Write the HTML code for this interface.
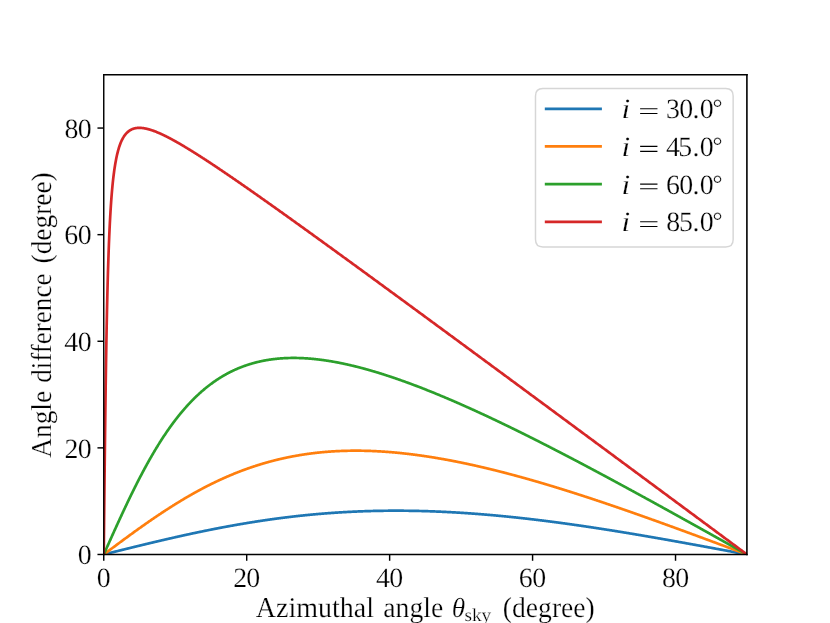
<!DOCTYPE html>
<html><head><meta charset="utf-8"><style>
html,body{margin:0;padding:0;background:#fff;}
svg{display:block;}
text{font-family:"Liberation Serif",serif;fill:#000;text-rendering:geometricPrecision;stroke:#fff;stroke-width:0.25px;}
</style></head><body>
<svg width="830" height="623" viewBox="0 0 830 623">
<defs><clipPath id="ax"><rect x="103.75" y="74.76" width="643.25" height="479.71"/></clipPath></defs>
<rect width="830" height="623" fill="#fff"/>
<g clip-path="url(#ax)">
<polyline points="103.75,554.47 104.07,554.39 104.39,554.31 104.72,554.23 105.04,554.15 105.36,554.07 105.68,553.99 106.00,553.91 106.32,553.83 106.65,553.75 106.97,553.67 107.29,553.59 107.61,553.51 107.93,553.43 108.26,553.35 108.58,553.27 108.90,553.19 109.22,553.11 109.54,553.03 109.86,552.95 110.19,552.87 110.51,552.79 110.83,552.71 111.15,552.63 111.47,552.55 111.79,552.47 112.12,552.39 112.44,552.31 112.76,552.23 113.08,552.15 113.40,552.07 113.73,551.99 114.05,551.91 114.37,551.83 114.69,551.75 115.01,551.67 115.33,551.59 115.66,551.51 115.98,551.43 116.30,551.35 116.62,551.27 116.94,551.19 117.27,551.11 117.59,551.03 117.91,550.95 118.23,550.88 118.55,550.80 118.87,550.72 119.20,550.64 119.52,550.56 119.84,550.48 120.16,550.40 120.48,550.32 120.80,550.24 121.13,550.16 121.45,550.08 121.77,550.00 122.09,549.92 122.41,549.84 122.74,549.76 123.06,549.68 123.38,549.60 123.70,549.52 124.02,549.44 124.34,549.36 124.67,549.28 124.99,549.21 125.31,549.13 125.63,549.05 125.95,548.97 126.28,548.89 126.60,548.81 126.92,548.73 127.24,548.65 127.56,548.57 127.88,548.49 128.21,548.41 128.53,548.33 128.85,548.25 129.17,548.18 129.49,548.10 129.81,548.02 130.14,547.94 130.46,547.86 130.78,547.78 131.10,547.70 131.42,547.62 131.75,547.54 132.07,547.47 132.39,547.39 132.71,547.31 133.03,547.23 133.35,547.15 133.68,547.07 134.00,546.99 134.32,546.91 134.64,546.84 134.96,546.76 135.29,546.68 135.61,546.60 135.93,546.52 136.25,546.44 136.57,546.36 136.89,546.29 137.22,546.21 137.54,546.13 137.86,546.05 138.18,545.97 138.50,545.90 138.82,545.82 139.15,545.74 139.47,545.66 139.79,545.58 140.11,545.50 140.43,545.43 140.76,545.35 141.08,545.27 141.40,545.19 141.72,545.11 142.04,545.04 142.36,544.96 142.69,544.88 143.01,544.80 143.33,544.73 143.65,544.65 143.97,544.57 144.30,544.49 144.62,544.42 144.94,544.34 145.26,544.26 145.58,544.18 145.90,544.11 146.23,544.03 146.55,543.95 146.87,543.87 147.19,543.80 147.51,543.72 147.83,543.64 148.16,543.56 148.48,543.49 148.80,543.41 149.12,543.33 149.44,543.26 149.77,543.18 150.09,543.10 150.41,543.03 150.73,542.95 151.05,542.87 151.37,542.80 151.70,542.72 152.02,542.64 152.34,542.57 152.66,542.49 152.98,542.41 153.31,542.34 153.63,542.26 153.95,542.18 154.27,542.11 154.59,542.03 154.91,541.96 155.24,541.88 155.56,541.80 155.88,541.73 156.20,541.65 156.52,541.57 156.84,541.50 157.17,541.42 157.49,541.35 157.81,541.27 158.13,541.20 158.45,541.12 158.78,541.04 159.10,540.97 159.42,540.89 159.74,540.82 160.06,540.74 160.38,540.67 160.71,540.59 161.03,540.52 161.35,540.44 161.67,540.37 161.99,540.29 162.32,540.22 162.64,540.14 162.96,540.07 163.28,539.99 163.60,539.92 163.92,539.84 164.25,539.77 164.57,539.69 164.89,539.62 165.21,539.54 165.53,539.47 165.85,539.39 166.18,539.32 166.50,539.25 166.82,539.17 167.14,539.10 167.46,539.02 167.79,538.95 168.11,538.87 168.43,538.80 168.75,538.73 169.07,538.65 169.39,538.58 169.72,538.51 170.04,538.43 170.36,538.36 170.68,538.28 171.00,538.21 171.33,538.14 171.65,538.06 171.97,537.99 172.29,537.92 172.61,537.84 172.93,537.77 173.26,537.70 173.58,537.63 173.90,537.55 174.22,537.48 174.54,537.41 174.86,537.33 175.19,537.26 175.51,537.19 175.83,537.12 176.15,537.04 176.47,536.97 176.80,536.90 177.12,536.83 177.44,536.75 177.76,536.68 178.08,536.61 178.40,536.54 178.73,536.47 179.05,536.39 179.37,536.32 179.69,536.25 180.01,536.18 180.34,536.11 180.66,536.04 180.98,535.96 181.30,535.89 181.62,535.82 181.94,535.75 182.27,535.68 182.59,535.61 182.91,535.54 183.23,535.47 183.55,535.39 183.87,535.32 184.20,535.25 184.52,535.18 184.84,535.11 185.16,535.04 185.48,534.97 185.81,534.90 186.13,534.83 186.45,534.76 186.77,534.69 187.09,534.62 187.41,534.55 187.74,534.48 188.06,534.41 188.38,534.34 188.70,534.27 189.02,534.20 189.35,534.13 189.67,534.06 189.99,533.99 190.31,533.92 190.63,533.85 190.95,533.78 191.28,533.71 191.60,533.64 191.92,533.57 192.24,533.51 192.56,533.44 192.88,533.37 193.21,533.30 193.53,533.23 193.85,533.16 194.17,533.09 194.49,533.02 194.82,532.96 195.14,532.89 195.46,532.82 195.78,532.75 196.10,532.68 196.42,532.62 196.75,532.55 197.07,532.48 197.39,532.41 197.71,532.34 198.03,532.28 198.36,532.21 198.68,532.14 199.00,532.07 199.32,532.01 199.64,531.94 199.96,531.87 200.29,531.81 200.61,531.74 200.93,531.67 201.25,531.61 201.57,531.54 201.89,531.47 202.22,531.41 202.54,531.34 202.86,531.27 203.18,531.21 203.50,531.14 203.83,531.07 204.15,531.01 204.47,530.94 204.79,530.88 205.11,530.81 205.43,530.75 205.76,530.68 206.08,530.61 206.40,530.55 206.72,530.48 207.04,530.42 207.37,530.35 207.69,530.29 208.01,530.22 208.33,530.16 208.65,530.09 208.97,530.03 209.30,529.96 209.62,529.90 209.94,529.83 210.26,529.77 210.58,529.71 210.90,529.64 211.23,529.58 211.55,529.51 211.87,529.45 212.19,529.39 212.51,529.32 212.84,529.26 213.16,529.20 213.48,529.13 213.80,529.07 214.12,529.00 214.44,528.94 214.77,528.88 215.09,528.82 215.41,528.75 215.73,528.69 216.05,528.63 216.38,528.56 216.70,528.50 217.02,528.44 217.34,528.38 217.66,528.31 217.98,528.25 218.31,528.19 218.63,528.13 218.95,528.07 219.27,528.00 219.59,527.94 219.91,527.88 220.24,527.82 220.56,527.76 220.88,527.70 221.20,527.64 221.52,527.57 221.85,527.51 222.17,527.45 222.49,527.39 222.81,527.33 223.13,527.27 223.45,527.21 223.78,527.15 224.10,527.09 224.42,527.03 224.74,526.97 225.06,526.91 225.39,526.85 225.71,526.79 226.03,526.73 226.35,526.67 226.67,526.61 226.99,526.55 227.32,526.49 227.64,526.43 227.96,526.37 228.28,526.31 228.60,526.25 228.92,526.19 229.25,526.13 229.57,526.08 229.89,526.02 230.21,525.96 230.53,525.90 230.86,525.84 231.18,525.78 231.50,525.72 231.82,525.67 232.14,525.61 232.46,525.55 232.79,525.49 233.11,525.43 233.43,525.38 233.75,525.32 234.07,525.26 234.40,525.21 234.72,525.15 235.04,525.09 235.36,525.03 235.68,524.98 236.00,524.92 236.33,524.86 236.65,524.81 236.97,524.75 237.29,524.69 237.61,524.64 237.93,524.58 238.26,524.53 238.58,524.47 238.90,524.41 239.22,524.36 239.54,524.30 239.87,524.25 240.19,524.19 240.51,524.14 240.83,524.08 241.15,524.03 241.47,523.97 241.80,523.92 242.12,523.86 242.44,523.81 242.76,523.75 243.08,523.70 243.41,523.64 243.73,523.59 244.05,523.53 244.37,523.48 244.69,523.43 245.01,523.37 245.34,523.32 245.66,523.26 245.98,523.21 246.30,523.16 246.62,523.10 246.94,523.05 247.27,523.00 247.59,522.94 247.91,522.89 248.23,522.84 248.55,522.79 248.88,522.73 249.20,522.68 249.52,522.63 249.84,522.58 250.16,522.52 250.48,522.47 250.81,522.42 251.13,522.37 251.45,522.32 251.77,522.26 252.09,522.21 252.42,522.16 252.74,522.11 253.06,522.06 253.38,522.01 253.70,521.96 254.02,521.91 254.35,521.85 254.67,521.80 254.99,521.75 255.31,521.70 255.63,521.65 255.95,521.60 256.28,521.55 256.60,521.50 256.92,521.45 257.24,521.40 257.56,521.35 257.89,521.30 258.21,521.25 258.53,521.20 258.85,521.15 259.17,521.10 259.49,521.06 259.82,521.01 260.14,520.96 260.46,520.91 260.78,520.86 261.10,520.81 261.43,520.76 261.75,520.72 262.07,520.67 262.39,520.62 262.71,520.57 263.03,520.52 263.36,520.48 263.68,520.43 264.00,520.38 264.32,520.33 264.64,520.29 264.96,520.24 265.29,520.19 265.61,520.14 265.93,520.10 266.25,520.05 266.57,520.00 266.90,519.96 267.22,519.91 267.54,519.87 267.86,519.82 268.18,519.77 268.50,519.73 268.83,519.68 269.15,519.64 269.47,519.59 269.79,519.54 270.11,519.50 270.44,519.45 270.76,519.41 271.08,519.36 271.40,519.32 271.72,519.27 272.04,519.23 272.37,519.18 272.69,519.14 273.01,519.10 273.33,519.05 273.65,519.01 273.97,518.96 274.30,518.92 274.62,518.88 274.94,518.83 275.26,518.79 275.58,518.74 275.91,518.70 276.23,518.66 276.55,518.61 276.87,518.57 277.19,518.53 277.51,518.49 277.84,518.44 278.16,518.40 278.48,518.36 278.80,518.32 279.12,518.27 279.45,518.23 279.77,518.19 280.09,518.15 280.41,518.11 280.73,518.06 281.05,518.02 281.38,517.98 281.70,517.94 282.02,517.90 282.34,517.86 282.66,517.82 282.98,517.78 283.31,517.74 283.63,517.70 283.95,517.65 284.27,517.61 284.59,517.57 284.92,517.53 285.24,517.49 285.56,517.45 285.88,517.41 286.20,517.37 286.52,517.33 286.85,517.30 287.17,517.26 287.49,517.22 287.81,517.18 288.13,517.14 288.46,517.10 288.78,517.06 289.10,517.02 289.42,516.98 289.74,516.95 290.06,516.91 290.39,516.87 290.71,516.83 291.03,516.79 291.35,516.76 291.67,516.72 291.99,516.68 292.32,516.64 292.64,516.61 292.96,516.57 293.28,516.53 293.60,516.49 293.93,516.46 294.25,516.42 294.57,516.38 294.89,516.35 295.21,516.31 295.53,516.27 295.86,516.24 296.18,516.20 296.50,516.17 296.82,516.13 297.14,516.10 297.47,516.06 297.79,516.02 298.11,515.99 298.43,515.95 298.75,515.92 299.07,515.88 299.40,515.85 299.72,515.81 300.04,515.78 300.36,515.74 300.68,515.71 301.00,515.68 301.33,515.64 301.65,515.61 301.97,515.57 302.29,515.54 302.61,515.51 302.94,515.47 303.26,515.44 303.58,515.41 303.90,515.37 304.22,515.34 304.54,515.31 304.87,515.27 305.19,515.24 305.51,515.21 305.83,515.18 306.15,515.14 306.48,515.11 306.80,515.08 307.12,515.05 307.44,515.02 307.76,514.98 308.08,514.95 308.41,514.92 308.73,514.89 309.05,514.86 309.37,514.83 309.69,514.80 310.01,514.76 310.34,514.73 310.66,514.70 310.98,514.67 311.30,514.64 311.62,514.61 311.95,514.58 312.27,514.55 312.59,514.52 312.91,514.49 313.23,514.46 313.55,514.43 313.88,514.40 314.20,514.37 314.52,514.34 314.84,514.31 315.16,514.28 315.49,514.26 315.81,514.23 316.13,514.20 316.45,514.17 316.77,514.14 317.09,514.11 317.42,514.08 317.74,514.06 318.06,514.03 318.38,514.00 318.70,513.97 319.02,513.95 319.35,513.92 319.67,513.89 319.99,513.86 320.31,513.84 320.63,513.81 320.96,513.78 321.28,513.76 321.60,513.73 321.92,513.70 322.24,513.68 322.56,513.65 322.89,513.62 323.21,513.60 323.53,513.57 323.85,513.54 324.17,513.52 324.50,513.49 324.82,513.47 325.14,513.44 325.46,513.42 325.78,513.39 326.10,513.37 326.43,513.34 326.75,513.32 327.07,513.29 327.39,513.27 327.71,513.24 328.03,513.22 328.36,513.20 328.68,513.17 329.00,513.15 329.32,513.12 329.64,513.10 329.97,513.08 330.29,513.05 330.61,513.03 330.93,513.01 331.25,512.98 331.57,512.96 331.90,512.94 332.22,512.91 332.54,512.89 332.86,512.87 333.18,512.85 333.51,512.82 333.83,512.80 334.15,512.78 334.47,512.76 334.79,512.74 335.11,512.71 335.44,512.69 335.76,512.67 336.08,512.65 336.40,512.63 336.72,512.61 337.04,512.59 337.37,512.57 337.69,512.54 338.01,512.52 338.33,512.50 338.65,512.48 338.98,512.46 339.30,512.44 339.62,512.42 339.94,512.40 340.26,512.38 340.58,512.36 340.91,512.34 341.23,512.32 341.55,512.30 341.87,512.29 342.19,512.27 342.52,512.25 342.84,512.23 343.16,512.21 343.48,512.19 343.80,512.17 344.12,512.15 344.45,512.14 344.77,512.12 345.09,512.10 345.41,512.08 345.73,512.06 346.05,512.05 346.38,512.03 346.70,512.01 347.02,511.99 347.34,511.98 347.66,511.96 347.99,511.94 348.31,511.93 348.63,511.91 348.95,511.89 349.27,511.88 349.59,511.86 349.92,511.84 350.24,511.83 350.56,511.81 350.88,511.79 351.20,511.78 351.53,511.76 351.85,511.75 352.17,511.73 352.49,511.72 352.81,511.70 353.13,511.69 353.46,511.67 353.78,511.66 354.10,511.64 354.42,511.63 354.74,511.61 355.06,511.60 355.39,511.58 355.71,511.57 356.03,511.56 356.35,511.54 356.67,511.53 357.00,511.51 357.32,511.50 357.64,511.49 357.96,511.47 358.28,511.46 358.60,511.45 358.93,511.43 359.25,511.42 359.57,511.41 359.89,511.40 360.21,511.38 360.54,511.37 360.86,511.36 361.18,511.35 361.50,511.33 361.82,511.32 362.14,511.31 362.47,511.30 362.79,511.29 363.11,511.27 363.43,511.26 363.75,511.25 364.07,511.24 364.40,511.23 364.72,511.22 365.04,511.21 365.36,511.20 365.68,511.19 366.01,511.18 366.33,511.17 366.65,511.16 366.97,511.14 367.29,511.13 367.61,511.12 367.94,511.12 368.26,511.11 368.58,511.10 368.90,511.09 369.22,511.08 369.55,511.07 369.87,511.06 370.19,511.05 370.51,511.04 370.83,511.03 371.15,511.02 371.48,511.01 371.80,511.01 372.12,511.00 372.44,510.99 372.76,510.98 373.08,510.97 373.41,510.97 373.73,510.96 374.05,510.95 374.37,510.94 374.69,510.94 375.02,510.93 375.34,510.92 375.66,510.91 375.98,510.91 376.30,510.90 376.62,510.89 376.95,510.89 377.27,510.88 377.59,510.87 377.91,510.87 378.23,510.86 378.56,510.86 378.88,510.85 379.20,510.84 379.52,510.84 379.84,510.83 380.16,510.83 380.49,510.82 380.81,510.82 381.13,510.81 381.45,510.81 381.77,510.80 382.09,510.80 382.42,510.79 382.74,510.79 383.06,510.78 383.38,510.78 383.70,510.77 384.03,510.77 384.35,510.76 384.67,510.76 384.99,510.76 385.31,510.75 385.63,510.75 385.96,510.75 386.28,510.74 386.60,510.74 386.92,510.74 387.24,510.73 387.57,510.73 387.89,510.73 388.21,510.72 388.53,510.72 388.85,510.72 389.17,510.72 389.50,510.72 389.82,510.71 390.14,510.71 390.46,510.71 390.78,510.71 391.10,510.71 391.43,510.70 391.75,510.70 392.07,510.70 392.39,510.70 392.71,510.70 393.04,510.70 393.36,510.70 393.68,510.70 394.00,510.69 394.32,510.69 394.64,510.69 394.97,510.69 395.29,510.69 395.61,510.69 395.93,510.69 396.25,510.69 396.58,510.69 396.90,510.69 397.22,510.69 397.54,510.69 397.86,510.69 398.18,510.70 398.51,510.70 398.83,510.70 399.15,510.70 399.47,510.70 399.79,510.70 400.11,510.70 400.44,510.70 400.76,510.70 401.08,510.71 401.40,510.71 401.72,510.71 402.05,510.71 402.37,510.71 402.69,510.72 403.01,510.72 403.33,510.72 403.65,510.72 403.98,510.73 404.30,510.73 404.62,510.73 404.94,510.73 405.26,510.74 405.59,510.74 405.91,510.74 406.23,510.75 406.55,510.75 406.87,510.75 407.19,510.76 407.52,510.76 407.84,510.77 408.16,510.77 408.48,510.77 408.80,510.78 409.12,510.78 409.45,510.79 409.77,510.79 410.09,510.80 410.41,510.80 410.73,510.81 411.06,510.81 411.38,510.82 411.70,510.82 412.02,510.83 412.34,510.83 412.66,510.84 412.99,510.84 413.31,510.85 413.63,510.85 413.95,510.86 414.27,510.87 414.60,510.87 414.92,510.88 415.24,510.88 415.56,510.89 415.88,510.90 416.20,510.90 416.53,510.91 416.85,510.92 417.17,510.92 417.49,510.93 417.81,510.94 418.13,510.95 418.46,510.95 418.78,510.96 419.10,510.97 419.42,510.98 419.74,510.98 420.07,510.99 420.39,511.00 420.71,511.01 421.03,511.02 421.35,511.02 421.67,511.03 422.00,511.04 422.32,511.05 422.64,511.06 422.96,511.07 423.28,511.08 423.61,511.08 423.93,511.09 424.25,511.10 424.57,511.11 424.89,511.12 425.21,511.13 425.54,511.14 425.86,511.15 426.18,511.16 426.50,511.17 426.82,511.18 427.14,511.19 427.47,511.20 427.79,511.21 428.11,511.22 428.43,511.23 428.75,511.24 429.08,511.25 429.40,511.26 429.72,511.27 430.04,511.29 430.36,511.30 430.68,511.31 431.01,511.32 431.33,511.33 431.65,511.34 431.97,511.35 432.29,511.37 432.62,511.38 432.94,511.39 433.26,511.40 433.58,511.41 433.90,511.43 434.22,511.44 434.55,511.45 434.87,511.46 435.19,511.48 435.51,511.49 435.83,511.50 436.15,511.51 436.48,511.53 436.80,511.54 437.12,511.55 437.44,511.57 437.76,511.58 438.09,511.59 438.41,511.61 438.73,511.62 439.05,511.63 439.37,511.65 439.69,511.66 440.02,511.68 440.34,511.69 440.66,511.70 440.98,511.72 441.30,511.73 441.63,511.75 441.95,511.76 442.27,511.78 442.59,511.79 442.91,511.81 443.23,511.82 443.56,511.84 443.88,511.85 444.20,511.87 444.52,511.88 444.84,511.90 445.16,511.91 445.49,511.93 445.81,511.95 446.13,511.96 446.45,511.98 446.77,511.99 447.10,512.01 447.42,512.03 447.74,512.04 448.06,512.06 448.38,512.08 448.70,512.09 449.03,512.11 449.35,512.13 449.67,512.14 449.99,512.16 450.31,512.18 450.64,512.19 450.96,512.21 451.28,512.23 451.60,512.25 451.92,512.26 452.24,512.28 452.57,512.30 452.89,512.32 453.21,512.34 453.53,512.35 453.85,512.37 454.17,512.39 454.50,512.41 454.82,512.43 455.14,512.45 455.46,512.46 455.78,512.48 456.11,512.50 456.43,512.52 456.75,512.54 457.07,512.56 457.39,512.58 457.71,512.60 458.04,512.62 458.36,512.64 458.68,512.66 459.00,512.67 459.32,512.69 459.65,512.71 459.97,512.73 460.29,512.75 460.61,512.77 460.93,512.79 461.25,512.81 461.58,512.84 461.90,512.86 462.22,512.88 462.54,512.90 462.86,512.92 463.18,512.94 463.51,512.96 463.83,512.98 464.15,513.00 464.47,513.02 464.79,513.04 465.12,513.07 465.44,513.09 465.76,513.11 466.08,513.13 466.40,513.15 466.72,513.17 467.05,513.20 467.37,513.22 467.69,513.24 468.01,513.26 468.33,513.28 468.66,513.31 468.98,513.33 469.30,513.35 469.62,513.37 469.94,513.40 470.26,513.42 470.59,513.44 470.91,513.46 471.23,513.49 471.55,513.51 471.87,513.53 472.19,513.56 472.52,513.58 472.84,513.60 473.16,513.63 473.48,513.65 473.80,513.68 474.13,513.70 474.45,513.72 474.77,513.75 475.09,513.77 475.41,513.80 475.73,513.82 476.06,513.84 476.38,513.87 476.70,513.89 477.02,513.92 477.34,513.94 477.67,513.97 477.99,513.99 478.31,514.02 478.63,514.04 478.95,514.07 479.27,514.09 479.60,514.12 479.92,514.14 480.24,514.17 480.56,514.19 480.88,514.22 481.20,514.25 481.53,514.27 481.85,514.30 482.17,514.32 482.49,514.35 482.81,514.37 483.14,514.40 483.46,514.43 483.78,514.45 484.10,514.48 484.42,514.51 484.74,514.53 485.07,514.56 485.39,514.59 485.71,514.61 486.03,514.64 486.35,514.67 486.68,514.69 487.00,514.72 487.32,514.75 487.64,514.78 487.96,514.80 488.28,514.83 488.61,514.86 488.93,514.89 489.25,514.91 489.57,514.94 489.89,514.97 490.21,515.00 490.54,515.03 490.86,515.06 491.18,515.08 491.50,515.11 491.82,515.14 492.15,515.17 492.47,515.20 492.79,515.23 493.11,515.25 493.43,515.28 493.75,515.31 494.08,515.34 494.40,515.37 494.72,515.40 495.04,515.43 495.36,515.46 495.69,515.49 496.01,515.52 496.33,515.55 496.65,515.58 496.97,515.61 497.29,515.64 497.62,515.67 497.94,515.70 498.26,515.73 498.58,515.76 498.90,515.79 499.22,515.82 499.55,515.85 499.87,515.88 500.19,515.91 500.51,515.94 500.83,515.97 501.16,516.00 501.48,516.03 501.80,516.06 502.12,516.09 502.44,516.12 502.76,516.15 503.09,516.19 503.41,516.22 503.73,516.25 504.05,516.28 504.37,516.31 504.70,516.34 505.02,516.37 505.34,516.41 505.66,516.44 505.98,516.47 506.30,516.50 506.63,516.53 506.95,516.57 507.27,516.60 507.59,516.63 507.91,516.66 508.23,516.70 508.56,516.73 508.88,516.76 509.20,516.79 509.52,516.83 509.84,516.86 510.17,516.89 510.49,516.92 510.81,516.96 511.13,516.99 511.45,517.02 511.77,517.06 512.10,517.09 512.42,517.12 512.74,517.16 513.06,517.19 513.38,517.22 513.71,517.26 514.03,517.29 514.35,517.33 514.67,517.36 514.99,517.39 515.31,517.43 515.64,517.46 515.96,517.50 516.28,517.53 516.60,517.57 516.92,517.60 517.24,517.63 517.57,517.67 517.89,517.70 518.21,517.74 518.53,517.77 518.85,517.81 519.18,517.84 519.50,517.88 519.82,517.91 520.14,517.95 520.46,517.98 520.78,518.02 521.11,518.05 521.43,518.09 521.75,518.13 522.07,518.16 522.39,518.20 522.72,518.23 523.04,518.27 523.36,518.30 523.68,518.34 524.00,518.38 524.32,518.41 524.65,518.45 524.97,518.48 525.29,518.52 525.61,518.56 525.93,518.59 526.25,518.63 526.58,518.67 526.90,518.70 527.22,518.74 527.54,518.78 527.86,518.81 528.19,518.85 528.51,518.89 528.83,518.92 529.15,518.96 529.47,519.00 529.79,519.04 530.12,519.07 530.44,519.11 530.76,519.15 531.08,519.19 531.40,519.22 531.73,519.26 532.05,519.30 532.37,519.34 532.69,519.37 533.01,519.41 533.33,519.45 533.66,519.49 533.98,519.53 534.30,519.56 534.62,519.60 534.94,519.64 535.26,519.68 535.59,519.72 535.91,519.76 536.23,519.80 536.55,519.83 536.87,519.87 537.20,519.91 537.52,519.95 537.84,519.99 538.16,520.03 538.48,520.07 538.80,520.11 539.13,520.15 539.45,520.19 539.77,520.22 540.09,520.26 540.41,520.30 540.74,520.34 541.06,520.38 541.38,520.42 541.70,520.46 542.02,520.50 542.34,520.54 542.67,520.58 542.99,520.62 543.31,520.66 543.63,520.70 543.95,520.74 544.27,520.78 544.60,520.82 544.92,520.86 545.24,520.90 545.56,520.94 545.88,520.98 546.21,521.02 546.53,521.07 546.85,521.11 547.17,521.15 547.49,521.19 547.81,521.23 548.14,521.27 548.46,521.31 548.78,521.35 549.10,521.39 549.42,521.43 549.75,521.48 550.07,521.52 550.39,521.56 550.71,521.60 551.03,521.64 551.35,521.68 551.68,521.73 552.00,521.77 552.32,521.81 552.64,521.85 552.96,521.89 553.28,521.93 553.61,521.98 553.93,522.02 554.25,522.06 554.57,522.10 554.89,522.15 555.22,522.19 555.54,522.23 555.86,522.27 556.18,522.32 556.50,522.36 556.82,522.40 557.15,522.44 557.47,522.49 557.79,522.53 558.11,522.57 558.43,522.61 558.76,522.66 559.08,522.70 559.40,522.74 559.72,522.79 560.04,522.83 560.36,522.87 560.69,522.92 561.01,522.96 561.33,523.00 561.65,523.05 561.97,523.09 562.29,523.13 562.62,523.18 562.94,523.22 563.26,523.27 563.58,523.31 563.90,523.35 564.23,523.40 564.55,523.44 564.87,523.49 565.19,523.53 565.51,523.57 565.83,523.62 566.16,523.66 566.48,523.71 566.80,523.75 567.12,523.80 567.44,523.84 567.77,523.89 568.09,523.93 568.41,523.97 568.73,524.02 569.05,524.06 569.37,524.11 569.70,524.15 570.02,524.20 570.34,524.24 570.66,524.29 570.98,524.33 571.30,524.38 571.63,524.42 571.95,524.47 572.27,524.52 572.59,524.56 572.91,524.61 573.24,524.65 573.56,524.70 573.88,524.74 574.20,524.79 574.52,524.83 574.84,524.88 575.17,524.93 575.49,524.97 575.81,525.02 576.13,525.06 576.45,525.11 576.78,525.16 577.10,525.20 577.42,525.25 577.74,525.30 578.06,525.34 578.38,525.39 578.71,525.43 579.03,525.48 579.35,525.53 579.67,525.57 579.99,525.62 580.31,525.67 580.64,525.71 580.96,525.76 581.28,525.81 581.60,525.86 581.92,525.90 582.25,525.95 582.57,526.00 582.89,526.04 583.21,526.09 583.53,526.14 583.85,526.18 584.18,526.23 584.50,526.28 584.82,526.33 585.14,526.37 585.46,526.42 585.79,526.47 586.11,526.52 586.43,526.56 586.75,526.61 587.07,526.66 587.39,526.71 587.72,526.76 588.04,526.80 588.36,526.85 588.68,526.90 589.00,526.95 589.32,527.00 589.65,527.04 589.97,527.09 590.29,527.14 590.61,527.19 590.93,527.24 591.26,527.29 591.58,527.33 591.90,527.38 592.22,527.43 592.54,527.48 592.86,527.53 593.19,527.58 593.51,527.63 593.83,527.68 594.15,527.72 594.47,527.77 594.80,527.82 595.12,527.87 595.44,527.92 595.76,527.97 596.08,528.02 596.40,528.07 596.73,528.12 597.05,528.17 597.37,528.22 597.69,528.26 598.01,528.31 598.33,528.36 598.66,528.41 598.98,528.46 599.30,528.51 599.62,528.56 599.94,528.61 600.27,528.66 600.59,528.71 600.91,528.76 601.23,528.81 601.55,528.86 601.87,528.91 602.20,528.96 602.52,529.01 602.84,529.06 603.16,529.11 603.48,529.16 603.81,529.21 604.13,529.26 604.45,529.31 604.77,529.36 605.09,529.41 605.41,529.46 605.74,529.51 606.06,529.56 606.38,529.61 606.70,529.67 607.02,529.72 607.34,529.77 607.67,529.82 607.99,529.87 608.31,529.92 608.63,529.97 608.95,530.02 609.28,530.07 609.60,530.12 609.92,530.17 610.24,530.23 610.56,530.28 610.88,530.33 611.21,530.38 611.53,530.43 611.85,530.48 612.17,530.53 612.49,530.58 612.82,530.64 613.14,530.69 613.46,530.74 613.78,530.79 614.10,530.84 614.42,530.89 614.75,530.94 615.07,531.00 615.39,531.05 615.71,531.10 616.03,531.15 616.35,531.20 616.68,531.26 617.00,531.31 617.32,531.36 617.64,531.41 617.96,531.46 618.29,531.52 618.61,531.57 618.93,531.62 619.25,531.67 619.57,531.72 619.89,531.78 620.22,531.83 620.54,531.88 620.86,531.93 621.18,531.99 621.50,532.04 621.83,532.09 622.15,532.14 622.47,532.20 622.79,532.25 623.11,532.30 623.43,532.36 623.76,532.41 624.08,532.46 624.40,532.51 624.72,532.57 625.04,532.62 625.36,532.67 625.69,532.73 626.01,532.78 626.33,532.83 626.65,532.88 626.97,532.94 627.30,532.99 627.62,533.04 627.94,533.10 628.26,533.15 628.58,533.20 628.90,533.26 629.23,533.31 629.55,533.36 629.87,533.42 630.19,533.47 630.51,533.52 630.84,533.58 631.16,533.63 631.48,533.69 631.80,533.74 632.12,533.79 632.44,533.85 632.77,533.90 633.09,533.95 633.41,534.01 633.73,534.06 634.05,534.12 634.37,534.17 634.70,534.22 635.02,534.28 635.34,534.33 635.66,534.39 635.98,534.44 636.31,534.49 636.63,534.55 636.95,534.60 637.27,534.66 637.59,534.71 637.91,534.77 638.24,534.82 638.56,534.88 638.88,534.93 639.20,534.98 639.52,535.04 639.85,535.09 640.17,535.15 640.49,535.20 640.81,535.26 641.13,535.31 641.45,535.37 641.78,535.42 642.10,535.48 642.42,535.53 642.74,535.59 643.06,535.64 643.38,535.70 643.71,535.75 644.03,535.81 644.35,535.86 644.67,535.92 644.99,535.97 645.32,536.03 645.64,536.08 645.96,536.14 646.28,536.19 646.60,536.25 646.92,536.30 647.25,536.36 647.57,536.41 647.89,536.47 648.21,536.52 648.53,536.58 648.86,536.63 649.18,536.69 649.50,536.74 649.82,536.80 650.14,536.86 650.46,536.91 650.79,536.97 651.11,537.02 651.43,537.08 651.75,537.13 652.07,537.19 652.39,537.25 652.72,537.30 653.04,537.36 653.36,537.41 653.68,537.47 654.00,537.52 654.33,537.58 654.65,537.64 654.97,537.69 655.29,537.75 655.61,537.80 655.93,537.86 656.26,537.92 656.58,537.97 656.90,538.03 657.22,538.08 657.54,538.14 657.87,538.20 658.19,538.25 658.51,538.31 658.83,538.37 659.15,538.42 659.47,538.48 659.80,538.54 660.12,538.59 660.44,538.65 660.76,538.70 661.08,538.76 661.40,538.82 661.73,538.87 662.05,538.93 662.37,538.99 662.69,539.04 663.01,539.10 663.34,539.16 663.66,539.21 663.98,539.27 664.30,539.33 664.62,539.38 664.94,539.44 665.27,539.50 665.59,539.55 665.91,539.61 666.23,539.67 666.55,539.73 666.88,539.78 667.20,539.84 667.52,539.90 667.84,539.95 668.16,540.01 668.48,540.07 668.81,540.12 669.13,540.18 669.45,540.24 669.77,540.30 670.09,540.35 670.41,540.41 670.74,540.47 671.06,540.52 671.38,540.58 671.70,540.64 672.02,540.70 672.35,540.75 672.67,540.81 672.99,540.87 673.31,540.93 673.63,540.98 673.95,541.04 674.28,541.10 674.60,541.16 674.92,541.21 675.24,541.27 675.56,541.33 675.89,541.39 676.21,541.44 676.53,541.50 676.85,541.56 677.17,541.62 677.49,541.67 677.82,541.73 678.14,541.79 678.46,541.85 678.78,541.91 679.10,541.96 679.42,542.02 679.75,542.08 680.07,542.14 680.39,542.20 680.71,542.25 681.03,542.31 681.36,542.37 681.68,542.43 682.00,542.49 682.32,542.54 682.64,542.60 682.96,542.66 683.29,542.72 683.61,542.78 683.93,542.83 684.25,542.89 684.57,542.95 684.90,543.01 685.22,543.07 685.54,543.12 685.86,543.18 686.18,543.24 686.50,543.30 686.83,543.36 687.15,543.42 687.47,543.47 687.79,543.53 688.11,543.59 688.43,543.65 688.76,543.71 689.08,543.77 689.40,543.82 689.72,543.88 690.04,543.94 690.37,544.00 690.69,544.06 691.01,544.12 691.33,544.18 691.65,544.23 691.97,544.29 692.30,544.35 692.62,544.41 692.94,544.47 693.26,544.53 693.58,544.59 693.91,544.64 694.23,544.70 694.55,544.76 694.87,544.82 695.19,544.88 695.51,544.94 695.84,545.00 696.16,545.05 696.48,545.11 696.80,545.17 697.12,545.23 697.44,545.29 697.77,545.35 698.09,545.41 698.41,545.47 698.73,545.53 699.05,545.58 699.38,545.64 699.70,545.70 700.02,545.76 700.34,545.82 700.66,545.88 700.98,545.94 701.31,546.00 701.63,546.06 701.95,546.12 702.27,546.17 702.59,546.23 702.92,546.29 703.24,546.35 703.56,546.41 703.88,546.47 704.20,546.53 704.52,546.59 704.85,546.65 705.17,546.71 705.49,546.77 705.81,546.82 706.13,546.88 706.45,546.94 706.78,547.00 707.10,547.06 707.42,547.12 707.74,547.18 708.06,547.24 708.39,547.30 708.71,547.36 709.03,547.42 709.35,547.48 709.67,547.54 709.99,547.60 710.32,547.65 710.64,547.71 710.96,547.77 711.28,547.83 711.60,547.89 711.93,547.95 712.25,548.01 712.57,548.07 712.89,548.13 713.21,548.19 713.53,548.25 713.86,548.31 714.18,548.37 714.50,548.43 714.82,548.49 715.14,548.55 715.46,548.61 715.79,548.67 716.11,548.72 716.43,548.78 716.75,548.84 717.07,548.90 717.40,548.96 717.72,549.02 718.04,549.08 718.36,549.14 718.68,549.20 719.00,549.26 719.33,549.32 719.65,549.38 719.97,549.44 720.29,549.50 720.61,549.56 720.94,549.62 721.26,549.68 721.58,549.74 721.90,549.80 722.22,549.86 722.54,549.92 722.87,549.98 723.19,550.04 723.51,550.10 723.83,550.16 724.15,550.22 724.47,550.28 724.80,550.34 725.12,550.40 725.44,550.46 725.76,550.52 726.08,550.57 726.41,550.63 726.73,550.69 727.05,550.75 727.37,550.81 727.69,550.87 728.01,550.93 728.34,550.99 728.66,551.05 728.98,551.11 729.30,551.17 729.62,551.23 729.95,551.29 730.27,551.35 730.59,551.41 730.91,551.47 731.23,551.53 731.55,551.59 731.88,551.65 732.20,551.71 732.52,551.77 732.84,551.83 733.16,551.89 733.48,551.95 733.81,552.01 734.13,552.07 734.45,552.13 734.77,552.19 735.09,552.25 735.42,552.31 735.74,552.37 736.06,552.43 736.38,552.49 736.70,552.55 737.02,552.61 737.35,552.67 737.67,552.73 737.99,552.79 738.31,552.85 738.63,552.91 738.96,552.97 739.28,553.03 739.60,553.09 739.92,553.15 740.24,553.21 740.56,553.27 740.89,553.33 741.21,553.39 741.53,553.45 741.85,553.51 742.17,553.57 742.49,553.63 742.82,553.69 743.14,553.75 743.46,553.81 743.78,553.87 744.10,553.93 744.43,553.99 744.75,554.05 745.07,554.11 745.39,554.17 745.71,554.23 746.03,554.29 746.36,554.35 746.68,554.41 747.00,554.47" fill="none" stroke="#1f77b4" stroke-width="2.7" stroke-linejoin="round" stroke-linecap="square"/>
<polyline points="103.75,554.47 104.07,554.23 104.39,553.99 104.72,553.75 105.04,553.51 105.36,553.27 105.68,553.03 106.00,552.79 106.32,552.55 106.65,552.31 106.97,552.07 107.29,551.83 107.61,551.59 107.93,551.35 108.26,551.11 108.58,550.87 108.90,550.63 109.22,550.39 109.54,550.15 109.86,549.91 110.19,549.67 110.51,549.43 110.83,549.19 111.15,548.95 111.47,548.71 111.79,548.48 112.12,548.24 112.44,548.00 112.76,547.76 113.08,547.52 113.40,547.28 113.73,547.04 114.05,546.80 114.37,546.56 114.69,546.32 115.01,546.08 115.33,545.84 115.66,545.61 115.98,545.37 116.30,545.13 116.62,544.89 116.94,544.65 117.27,544.41 117.59,544.17 117.91,543.94 118.23,543.70 118.55,543.46 118.87,543.22 119.20,542.98 119.52,542.75 119.84,542.51 120.16,542.27 120.48,542.03 120.80,541.80 121.13,541.56 121.45,541.32 121.77,541.08 122.09,540.85 122.41,540.61 122.74,540.37 123.06,540.14 123.38,539.90 123.70,539.66 124.02,539.43 124.34,539.19 124.67,538.95 124.99,538.72 125.31,538.48 125.63,538.24 125.95,538.01 126.28,537.77 126.60,537.54 126.92,537.30 127.24,537.07 127.56,536.83 127.88,536.60 128.21,536.36 128.53,536.13 128.85,535.89 129.17,535.66 129.49,535.42 129.81,535.19 130.14,534.95 130.46,534.72 130.78,534.49 131.10,534.25 131.42,534.02 131.75,533.79 132.07,533.55 132.39,533.32 132.71,533.09 133.03,532.85 133.35,532.62 133.68,532.39 134.00,532.16 134.32,531.92 134.64,531.69 134.96,531.46 135.29,531.23 135.61,531.00 135.93,530.77 136.25,530.53 136.57,530.30 136.89,530.07 137.22,529.84 137.54,529.61 137.86,529.38 138.18,529.15 138.50,528.92 138.82,528.69 139.15,528.46 139.47,528.23 139.79,528.00 140.11,527.77 140.43,527.54 140.76,527.32 141.08,527.09 141.40,526.86 141.72,526.63 142.04,526.40 142.36,526.18 142.69,525.95 143.01,525.72 143.33,525.49 143.65,525.27 143.97,525.04 144.30,524.81 144.62,524.59 144.94,524.36 145.26,524.14 145.58,523.91 145.90,523.69 146.23,523.46 146.55,523.24 146.87,523.01 147.19,522.79 147.51,522.56 147.83,522.34 148.16,522.11 148.48,521.89 148.80,521.67 149.12,521.44 149.44,521.22 149.77,521.00 150.09,520.78 150.41,520.55 150.73,520.33 151.05,520.11 151.37,519.89 151.70,519.67 152.02,519.45 152.34,519.23 152.66,519.01 152.98,518.79 153.31,518.57 153.63,518.35 153.95,518.13 154.27,517.91 154.59,517.69 154.91,517.47 155.24,517.25 155.56,517.03 155.88,516.81 156.20,516.60 156.52,516.38 156.84,516.16 157.17,515.95 157.49,515.73 157.81,515.51 158.13,515.30 158.45,515.08 158.78,514.86 159.10,514.65 159.42,514.43 159.74,514.22 160.06,514.01 160.38,513.79 160.71,513.58 161.03,513.36 161.35,513.15 161.67,512.94 161.99,512.72 162.32,512.51 162.64,512.30 162.96,512.09 163.28,511.88 163.60,511.66 163.92,511.45 164.25,511.24 164.57,511.03 164.89,510.82 165.21,510.61 165.53,510.40 165.85,510.19 166.18,509.98 166.50,509.77 166.82,509.57 167.14,509.36 167.46,509.15 167.79,508.94 168.11,508.74 168.43,508.53 168.75,508.32 169.07,508.12 169.39,507.91 169.72,507.70 170.04,507.50 170.36,507.29 170.68,507.09 171.00,506.88 171.33,506.68 171.65,506.48 171.97,506.27 172.29,506.07 172.61,505.87 172.93,505.66 173.26,505.46 173.58,505.26 173.90,505.06 174.22,504.86 174.54,504.65 174.86,504.45 175.19,504.25 175.51,504.05 175.83,503.85 176.15,503.65 176.47,503.46 176.80,503.26 177.12,503.06 177.44,502.86 177.76,502.66 178.08,502.47 178.40,502.27 178.73,502.07 179.05,501.88 179.37,501.68 179.69,501.48 180.01,501.29 180.34,501.09 180.66,500.90 180.98,500.70 181.30,500.51 181.62,500.32 181.94,500.12 182.27,499.93 182.59,499.74 182.91,499.54 183.23,499.35 183.55,499.16 183.87,498.97 184.20,498.78 184.52,498.59 184.84,498.40 185.16,498.21 185.48,498.02 185.81,497.83 186.13,497.64 186.45,497.45 186.77,497.26 187.09,497.08 187.41,496.89 187.74,496.70 188.06,496.52 188.38,496.33 188.70,496.14 189.02,495.96 189.35,495.77 189.67,495.59 189.99,495.40 190.31,495.22 190.63,495.03 190.95,494.85 191.28,494.67 191.60,494.49 191.92,494.30 192.24,494.12 192.56,493.94 192.88,493.76 193.21,493.58 193.53,493.40 193.85,493.22 194.17,493.04 194.49,492.86 194.82,492.68 195.14,492.50 195.46,492.32 195.78,492.14 196.10,491.97 196.42,491.79 196.75,491.61 197.07,491.44 197.39,491.26 197.71,491.08 198.03,490.91 198.36,490.73 198.68,490.56 199.00,490.39 199.32,490.21 199.64,490.04 199.96,489.86 200.29,489.69 200.61,489.52 200.93,489.35 201.25,489.18 201.57,489.01 201.89,488.83 202.22,488.66 202.54,488.49 202.86,488.32 203.18,488.16 203.50,487.99 203.83,487.82 204.15,487.65 204.47,487.48 204.79,487.31 205.11,487.15 205.43,486.98 205.76,486.82 206.08,486.65 206.40,486.48 206.72,486.32 207.04,486.15 207.37,485.99 207.69,485.83 208.01,485.66 208.33,485.50 208.65,485.34 208.97,485.18 209.30,485.01 209.62,484.85 209.94,484.69 210.26,484.53 210.58,484.37 210.90,484.21 211.23,484.05 211.55,483.89 211.87,483.73 212.19,483.57 212.51,483.42 212.84,483.26 213.16,483.10 213.48,482.94 213.80,482.79 214.12,482.63 214.44,482.48 214.77,482.32 215.09,482.17 215.41,482.01 215.73,481.86 216.05,481.70 216.38,481.55 216.70,481.40 217.02,481.25 217.34,481.09 217.66,480.94 217.98,480.79 218.31,480.64 218.63,480.49 218.95,480.34 219.27,480.19 219.59,480.04 219.91,479.89 220.24,479.74 220.56,479.60 220.88,479.45 221.20,479.30 221.52,479.15 221.85,479.01 222.17,478.86 222.49,478.72 222.81,478.57 223.13,478.43 223.45,478.28 223.78,478.14 224.10,477.99 224.42,477.85 224.74,477.71 225.06,477.56 225.39,477.42 225.71,477.28 226.03,477.14 226.35,477.00 226.67,476.86 226.99,476.72 227.32,476.58 227.64,476.44 227.96,476.30 228.28,476.16 228.60,476.02 228.92,475.89 229.25,475.75 229.57,475.61 229.89,475.48 230.21,475.34 230.53,475.20 230.86,475.07 231.18,474.93 231.50,474.80 231.82,474.67 232.14,474.53 232.46,474.40 232.79,474.27 233.11,474.13 233.43,474.00 233.75,473.87 234.07,473.74 234.40,473.61 234.72,473.48 235.04,473.35 235.36,473.22 235.68,473.09 236.00,472.96 236.33,472.83 236.65,472.70 236.97,472.58 237.29,472.45 237.61,472.32 237.93,472.20 238.26,472.07 238.58,471.94 238.90,471.82 239.22,471.69 239.54,471.57 239.87,471.45 240.19,471.32 240.51,471.20 240.83,471.08 241.15,470.95 241.47,470.83 241.80,470.71 242.12,470.59 242.44,470.47 242.76,470.35 243.08,470.23 243.41,470.11 243.73,469.99 244.05,469.87 244.37,469.75 244.69,469.63 245.01,469.52 245.34,469.40 245.66,469.28 245.98,469.17 246.30,469.05 246.62,468.93 246.94,468.82 247.27,468.70 247.59,468.59 247.91,468.48 248.23,468.36 248.55,468.25 248.88,468.14 249.20,468.02 249.52,467.91 249.84,467.80 250.16,467.69 250.48,467.58 250.81,467.47 251.13,467.36 251.45,467.25 251.77,467.14 252.09,467.03 252.42,466.92 252.74,466.81 253.06,466.71 253.38,466.60 253.70,466.49 254.02,466.39 254.35,466.28 254.67,466.17 254.99,466.07 255.31,465.96 255.63,465.86 255.95,465.76 256.28,465.65 256.60,465.55 256.92,465.45 257.24,465.34 257.56,465.24 257.89,465.14 258.21,465.04 258.53,464.94 258.85,464.84 259.17,464.74 259.49,464.64 259.82,464.54 260.14,464.44 260.46,464.34 260.78,464.24 261.10,464.14 261.43,464.05 261.75,463.95 262.07,463.85 262.39,463.76 262.71,463.66 263.03,463.56 263.36,463.47 263.68,463.37 264.00,463.28 264.32,463.19 264.64,463.09 264.96,463.00 265.29,462.91 265.61,462.81 265.93,462.72 266.25,462.63 266.57,462.54 266.90,462.45 267.22,462.36 267.54,462.27 267.86,462.18 268.18,462.09 268.50,462.00 268.83,461.91 269.15,461.82 269.47,461.73 269.79,461.65 270.11,461.56 270.44,461.47 270.76,461.39 271.08,461.30 271.40,461.22 271.72,461.13 272.04,461.05 272.37,460.96 272.69,460.88 273.01,460.79 273.33,460.71 273.65,460.63 273.97,460.55 274.30,460.46 274.62,460.38 274.94,460.30 275.26,460.22 275.58,460.14 275.91,460.06 276.23,459.98 276.55,459.90 276.87,459.82 277.19,459.74 277.51,459.66 277.84,459.58 278.16,459.51 278.48,459.43 278.80,459.35 279.12,459.28 279.45,459.20 279.77,459.12 280.09,459.05 280.41,458.97 280.73,458.90 281.05,458.83 281.38,458.75 281.70,458.68 282.02,458.60 282.34,458.53 282.66,458.46 282.98,458.39 283.31,458.32 283.63,458.24 283.95,458.17 284.27,458.10 284.59,458.03 284.92,457.96 285.24,457.89 285.56,457.82 285.88,457.75 286.20,457.69 286.52,457.62 286.85,457.55 287.17,457.48 287.49,457.42 287.81,457.35 288.13,457.28 288.46,457.22 288.78,457.15 289.10,457.09 289.42,457.02 289.74,456.96 290.06,456.89 290.39,456.83 290.71,456.77 291.03,456.70 291.35,456.64 291.67,456.58 291.99,456.52 292.32,456.45 292.64,456.39 292.96,456.33 293.28,456.27 293.60,456.21 293.93,456.15 294.25,456.09 294.57,456.03 294.89,455.97 295.21,455.92 295.53,455.86 295.86,455.80 296.18,455.74 296.50,455.69 296.82,455.63 297.14,455.57 297.47,455.52 297.79,455.46 298.11,455.41 298.43,455.35 298.75,455.30 299.07,455.24 299.40,455.19 299.72,455.14 300.04,455.08 300.36,455.03 300.68,454.98 301.00,454.92 301.33,454.87 301.65,454.82 301.97,454.77 302.29,454.72 302.61,454.67 302.94,454.62 303.26,454.57 303.58,454.52 303.90,454.47 304.22,454.42 304.54,454.37 304.87,454.33 305.19,454.28 305.51,454.23 305.83,454.18 306.15,454.14 306.48,454.09 306.80,454.04 307.12,454.00 307.44,453.95 307.76,453.91 308.08,453.86 308.41,453.82 308.73,453.77 309.05,453.73 309.37,453.69 309.69,453.64 310.01,453.60 310.34,453.56 310.66,453.52 310.98,453.48 311.30,453.43 311.62,453.39 311.95,453.35 312.27,453.31 312.59,453.27 312.91,453.23 313.23,453.19 313.55,453.15 313.88,453.12 314.20,453.08 314.52,453.04 314.84,453.00 315.16,452.96 315.49,452.93 315.81,452.89 316.13,452.85 316.45,452.82 316.77,452.78 317.09,452.75 317.42,452.71 317.74,452.68 318.06,452.64 318.38,452.61 318.70,452.57 319.02,452.54 319.35,452.51 319.67,452.47 319.99,452.44 320.31,452.41 320.63,452.38 320.96,452.34 321.28,452.31 321.60,452.28 321.92,452.25 322.24,452.22 322.56,452.19 322.89,452.16 323.21,452.13 323.53,452.10 323.85,452.07 324.17,452.04 324.50,452.02 324.82,451.99 325.14,451.96 325.46,451.93 325.78,451.91 326.10,451.88 326.43,451.85 326.75,451.83 327.07,451.80 327.39,451.78 327.71,451.75 328.03,451.73 328.36,451.70 328.68,451.68 329.00,451.65 329.32,451.63 329.64,451.61 329.97,451.58 330.29,451.56 330.61,451.54 330.93,451.52 331.25,451.49 331.57,451.47 331.90,451.45 332.22,451.43 332.54,451.41 332.86,451.39 333.18,451.37 333.51,451.35 333.83,451.33 334.15,451.31 334.47,451.29 334.79,451.27 335.11,451.26 335.44,451.24 335.76,451.22 336.08,451.20 336.40,451.19 336.72,451.17 337.04,451.15 337.37,451.14 337.69,451.12 338.01,451.11 338.33,451.09 338.65,451.08 338.98,451.06 339.30,451.05 339.62,451.03 339.94,451.02 340.26,451.01 340.58,450.99 340.91,450.98 341.23,450.97 341.55,450.95 341.87,450.94 342.19,450.93 342.52,450.92 342.84,450.91 343.16,450.90 343.48,450.89 343.80,450.88 344.12,450.87 344.45,450.86 344.77,450.85 345.09,450.84 345.41,450.83 345.73,450.82 346.05,450.81 346.38,450.80 346.70,450.79 347.02,450.79 347.34,450.78 347.66,450.77 347.99,450.77 348.31,450.76 348.63,450.75 348.95,450.75 349.27,450.74 349.59,450.74 349.92,450.73 350.24,450.73 350.56,450.72 350.88,450.72 351.20,450.71 351.53,450.71 351.85,450.71 352.17,450.70 352.49,450.70 352.81,450.70 353.13,450.70 353.46,450.69 353.78,450.69 354.10,450.69 354.42,450.69 354.74,450.69 355.06,450.69 355.39,450.69 355.71,450.69 356.03,450.69 356.35,450.69 356.67,450.69 357.00,450.69 357.32,450.69 357.64,450.69 357.96,450.69 358.28,450.69 358.60,450.70 358.93,450.70 359.25,450.70 359.57,450.70 359.89,450.71 360.21,450.71 360.54,450.71 360.86,450.72 361.18,450.72 361.50,450.73 361.82,450.73 362.14,450.74 362.47,450.74 362.79,450.75 363.11,450.75 363.43,450.76 363.75,450.77 364.07,450.77 364.40,450.78 364.72,450.79 365.04,450.79 365.36,450.80 365.68,450.81 366.01,450.82 366.33,450.83 366.65,450.84 366.97,450.84 367.29,450.85 367.61,450.86 367.94,450.87 368.26,450.88 368.58,450.89 368.90,450.90 369.22,450.91 369.55,450.92 369.87,450.94 370.19,450.95 370.51,450.96 370.83,450.97 371.15,450.98 371.48,450.99 371.80,451.01 372.12,451.02 372.44,451.03 372.76,451.05 373.08,451.06 373.41,451.07 373.73,451.09 374.05,451.10 374.37,451.12 374.69,451.13 375.02,451.15 375.34,451.16 375.66,451.18 375.98,451.19 376.30,451.21 376.62,451.23 376.95,451.24 377.27,451.26 377.59,451.28 377.91,451.29 378.23,451.31 378.56,451.33 378.88,451.35 379.20,451.36 379.52,451.38 379.84,451.40 380.16,451.42 380.49,451.44 380.81,451.46 381.13,451.48 381.45,451.50 381.77,451.52 382.09,451.54 382.42,451.56 382.74,451.58 383.06,451.60 383.38,451.62 383.70,451.64 384.03,451.66 384.35,451.69 384.67,451.71 384.99,451.73 385.31,451.75 385.63,451.78 385.96,451.80 386.28,451.82 386.60,451.84 386.92,451.87 387.24,451.89 387.57,451.92 387.89,451.94 388.21,451.97 388.53,451.99 388.85,452.02 389.17,452.04 389.50,452.07 389.82,452.09 390.14,452.12 390.46,452.14 390.78,452.17 391.10,452.20 391.43,452.22 391.75,452.25 392.07,452.28 392.39,452.30 392.71,452.33 393.04,452.36 393.36,452.39 393.68,452.42 394.00,452.45 394.32,452.47 394.64,452.50 394.97,452.53 395.29,452.56 395.61,452.59 395.93,452.62 396.25,452.65 396.58,452.68 396.90,452.71 397.22,452.74 397.54,452.77 397.86,452.80 398.18,452.84 398.51,452.87 398.83,452.90 399.15,452.93 399.47,452.96 399.79,453.00 400.11,453.03 400.44,453.06 400.76,453.09 401.08,453.13 401.40,453.16 401.72,453.19 402.05,453.23 402.37,453.26 402.69,453.30 403.01,453.33 403.33,453.37 403.65,453.40 403.98,453.44 404.30,453.47 404.62,453.51 404.94,453.54 405.26,453.58 405.59,453.61 405.91,453.65 406.23,453.69 406.55,453.72 406.87,453.76 407.19,453.80 407.52,453.83 407.84,453.87 408.16,453.91 408.48,453.95 408.80,453.99 409.12,454.02 409.45,454.06 409.77,454.10 410.09,454.14 410.41,454.18 410.73,454.22 411.06,454.26 411.38,454.30 411.70,454.34 412.02,454.38 412.34,454.42 412.66,454.46 412.99,454.50 413.31,454.54 413.63,454.58 413.95,454.62 414.27,454.66 414.60,454.71 414.92,454.75 415.24,454.79 415.56,454.83 415.88,454.87 416.20,454.92 416.53,454.96 416.85,455.00 417.17,455.05 417.49,455.09 417.81,455.13 418.13,455.18 418.46,455.22 418.78,455.26 419.10,455.31 419.42,455.35 419.74,455.40 420.07,455.44 420.39,455.49 420.71,455.53 421.03,455.58 421.35,455.62 421.67,455.67 422.00,455.72 422.32,455.76 422.64,455.81 422.96,455.85 423.28,455.90 423.61,455.95 423.93,456.00 424.25,456.04 424.57,456.09 424.89,456.14 425.21,456.19 425.54,456.23 425.86,456.28 426.18,456.33 426.50,456.38 426.82,456.43 427.14,456.48 427.47,456.53 427.79,456.57 428.11,456.62 428.43,456.67 428.75,456.72 429.08,456.77 429.40,456.82 429.72,456.87 430.04,456.92 430.36,456.98 430.68,457.03 431.01,457.08 431.33,457.13 431.65,457.18 431.97,457.23 432.29,457.28 432.62,457.33 432.94,457.39 433.26,457.44 433.58,457.49 433.90,457.54 434.22,457.60 434.55,457.65 434.87,457.70 435.19,457.76 435.51,457.81 435.83,457.86 436.15,457.92 436.48,457.97 436.80,458.03 437.12,458.08 437.44,458.13 437.76,458.19 438.09,458.24 438.41,458.30 438.73,458.35 439.05,458.41 439.37,458.46 439.69,458.52 440.02,458.58 440.34,458.63 440.66,458.69 440.98,458.74 441.30,458.80 441.63,458.86 441.95,458.91 442.27,458.97 442.59,459.03 442.91,459.09 443.23,459.14 443.56,459.20 443.88,459.26 444.20,459.32 444.52,459.37 444.84,459.43 445.16,459.49 445.49,459.55 445.81,459.61 446.13,459.67 446.45,459.73 446.77,459.79 447.10,459.84 447.42,459.90 447.74,459.96 448.06,460.02 448.38,460.08 448.70,460.14 449.03,460.20 449.35,460.26 449.67,460.33 449.99,460.39 450.31,460.45 450.64,460.51 450.96,460.57 451.28,460.63 451.60,460.69 451.92,460.75 452.24,460.82 452.57,460.88 452.89,460.94 453.21,461.00 453.53,461.07 453.85,461.13 454.17,461.19 454.50,461.25 454.82,461.32 455.14,461.38 455.46,461.44 455.78,461.51 456.11,461.57 456.43,461.63 456.75,461.70 457.07,461.76 457.39,461.83 457.71,461.89 458.04,461.96 458.36,462.02 458.68,462.09 459.00,462.15 459.32,462.22 459.65,462.28 459.97,462.35 460.29,462.41 460.61,462.48 460.93,462.54 461.25,462.61 461.58,462.68 461.90,462.74 462.22,462.81 462.54,462.88 462.86,462.94 463.18,463.01 463.51,463.08 463.83,463.14 464.15,463.21 464.47,463.28 464.79,463.35 465.12,463.42 465.44,463.48 465.76,463.55 466.08,463.62 466.40,463.69 466.72,463.76 467.05,463.83 467.37,463.89 467.69,463.96 468.01,464.03 468.33,464.10 468.66,464.17 468.98,464.24 469.30,464.31 469.62,464.38 469.94,464.45 470.26,464.52 470.59,464.59 470.91,464.66 471.23,464.73 471.55,464.80 471.87,464.87 472.19,464.94 472.52,465.01 472.84,465.09 473.16,465.16 473.48,465.23 473.80,465.30 474.13,465.37 474.45,465.44 474.77,465.52 475.09,465.59 475.41,465.66 475.73,465.73 476.06,465.80 476.38,465.88 476.70,465.95 477.02,466.02 477.34,466.10 477.67,466.17 477.99,466.24 478.31,466.32 478.63,466.39 478.95,466.46 479.27,466.54 479.60,466.61 479.92,466.69 480.24,466.76 480.56,466.83 480.88,466.91 481.20,466.98 481.53,467.06 481.85,467.13 482.17,467.21 482.49,467.28 482.81,467.36 483.14,467.43 483.46,467.51 483.78,467.59 484.10,467.66 484.42,467.74 484.74,467.81 485.07,467.89 485.39,467.97 485.71,468.04 486.03,468.12 486.35,468.19 486.68,468.27 487.00,468.35 487.32,468.43 487.64,468.50 487.96,468.58 488.28,468.66 488.61,468.74 488.93,468.81 489.25,468.89 489.57,468.97 489.89,469.05 490.21,469.12 490.54,469.20 490.86,469.28 491.18,469.36 491.50,469.44 491.82,469.52 492.15,469.60 492.47,469.68 492.79,469.75 493.11,469.83 493.43,469.91 493.75,469.99 494.08,470.07 494.40,470.15 494.72,470.23 495.04,470.31 495.36,470.39 495.69,470.47 496.01,470.55 496.33,470.63 496.65,470.71 496.97,470.79 497.29,470.87 497.62,470.96 497.94,471.04 498.26,471.12 498.58,471.20 498.90,471.28 499.22,471.36 499.55,471.44 499.87,471.53 500.19,471.61 500.51,471.69 500.83,471.77 501.16,471.85 501.48,471.94 501.80,472.02 502.12,472.10 502.44,472.18 502.76,472.27 503.09,472.35 503.41,472.43 503.73,472.51 504.05,472.60 504.37,472.68 504.70,472.76 505.02,472.85 505.34,472.93 505.66,473.02 505.98,473.10 506.30,473.18 506.63,473.27 506.95,473.35 507.27,473.44 507.59,473.52 507.91,473.60 508.23,473.69 508.56,473.77 508.88,473.86 509.20,473.94 509.52,474.03 509.84,474.11 510.17,474.20 510.49,474.28 510.81,474.37 511.13,474.46 511.45,474.54 511.77,474.63 512.10,474.71 512.42,474.80 512.74,474.89 513.06,474.97 513.38,475.06 513.71,475.14 514.03,475.23 514.35,475.32 514.67,475.40 514.99,475.49 515.31,475.58 515.64,475.67 515.96,475.75 516.28,475.84 516.60,475.93 516.92,476.01 517.24,476.10 517.57,476.19 517.89,476.28 518.21,476.37 518.53,476.45 518.85,476.54 519.18,476.63 519.50,476.72 519.82,476.81 520.14,476.90 520.46,476.98 520.78,477.07 521.11,477.16 521.43,477.25 521.75,477.34 522.07,477.43 522.39,477.52 522.72,477.61 523.04,477.70 523.36,477.79 523.68,477.88 524.00,477.97 524.32,478.05 524.65,478.14 524.97,478.23 525.29,478.32 525.61,478.42 525.93,478.51 526.25,478.60 526.58,478.69 526.90,478.78 527.22,478.87 527.54,478.96 527.86,479.05 528.19,479.14 528.51,479.23 528.83,479.32 529.15,479.41 529.47,479.50 529.79,479.60 530.12,479.69 530.44,479.78 530.76,479.87 531.08,479.96 531.40,480.05 531.73,480.15 532.05,480.24 532.37,480.33 532.69,480.42 533.01,480.52 533.33,480.61 533.66,480.70 533.98,480.79 534.30,480.89 534.62,480.98 534.94,481.07 535.26,481.17 535.59,481.26 535.91,481.35 536.23,481.44 536.55,481.54 536.87,481.63 537.20,481.73 537.52,481.82 537.84,481.91 538.16,482.01 538.48,482.10 538.80,482.19 539.13,482.29 539.45,482.38 539.77,482.48 540.09,482.57 540.41,482.67 540.74,482.76 541.06,482.85 541.38,482.95 541.70,483.04 542.02,483.14 542.34,483.23 542.67,483.33 542.99,483.42 543.31,483.52 543.63,483.61 543.95,483.71 544.27,483.81 544.60,483.90 544.92,484.00 545.24,484.09 545.56,484.19 545.88,484.28 546.21,484.38 546.53,484.48 546.85,484.57 547.17,484.67 547.49,484.77 547.81,484.86 548.14,484.96 548.46,485.06 548.78,485.15 549.10,485.25 549.42,485.35 549.75,485.44 550.07,485.54 550.39,485.64 550.71,485.73 551.03,485.83 551.35,485.93 551.68,486.03 552.00,486.12 552.32,486.22 552.64,486.32 552.96,486.42 553.28,486.51 553.61,486.61 553.93,486.71 554.25,486.81 554.57,486.91 554.89,487.00 555.22,487.10 555.54,487.20 555.86,487.30 556.18,487.40 556.50,487.50 556.82,487.60 557.15,487.69 557.47,487.79 557.79,487.89 558.11,487.99 558.43,488.09 558.76,488.19 559.08,488.29 559.40,488.39 559.72,488.49 560.04,488.59 560.36,488.69 560.69,488.79 561.01,488.89 561.33,488.99 561.65,489.08 561.97,489.18 562.29,489.28 562.62,489.38 562.94,489.49 563.26,489.59 563.58,489.69 563.90,489.79 564.23,489.89 564.55,489.99 564.87,490.09 565.19,490.19 565.51,490.29 565.83,490.39 566.16,490.49 566.48,490.59 566.80,490.69 567.12,490.79 567.44,490.90 567.77,491.00 568.09,491.10 568.41,491.20 568.73,491.30 569.05,491.40 569.37,491.50 569.70,491.61 570.02,491.71 570.34,491.81 570.66,491.91 570.98,492.01 571.30,492.12 571.63,492.22 571.95,492.32 572.27,492.42 572.59,492.52 572.91,492.63 573.24,492.73 573.56,492.83 573.88,492.93 574.20,493.04 574.52,493.14 574.84,493.24 575.17,493.35 575.49,493.45 575.81,493.55 576.13,493.65 576.45,493.76 576.78,493.86 577.10,493.96 577.42,494.07 577.74,494.17 578.06,494.27 578.38,494.38 578.71,494.48 579.03,494.59 579.35,494.69 579.67,494.79 579.99,494.90 580.31,495.00 580.64,495.10 580.96,495.21 581.28,495.31 581.60,495.42 581.92,495.52 582.25,495.63 582.57,495.73 582.89,495.83 583.21,495.94 583.53,496.04 583.85,496.15 584.18,496.25 584.50,496.36 584.82,496.46 585.14,496.57 585.46,496.67 585.79,496.78 586.11,496.88 586.43,496.99 586.75,497.09 587.07,497.20 587.39,497.30 587.72,497.41 588.04,497.52 588.36,497.62 588.68,497.73 589.00,497.83 589.32,497.94 589.65,498.04 589.97,498.15 590.29,498.26 590.61,498.36 590.93,498.47 591.26,498.57 591.58,498.68 591.90,498.79 592.22,498.89 592.54,499.00 592.86,499.11 593.19,499.21 593.51,499.32 593.83,499.43 594.15,499.53 594.47,499.64 594.80,499.75 595.12,499.85 595.44,499.96 595.76,500.07 596.08,500.17 596.40,500.28 596.73,500.39 597.05,500.49 597.37,500.60 597.69,500.71 598.01,500.82 598.33,500.92 598.66,501.03 598.98,501.14 599.30,501.25 599.62,501.35 599.94,501.46 600.27,501.57 600.59,501.68 600.91,501.79 601.23,501.89 601.55,502.00 601.87,502.11 602.20,502.22 602.52,502.33 602.84,502.43 603.16,502.54 603.48,502.65 603.81,502.76 604.13,502.87 604.45,502.98 604.77,503.08 605.09,503.19 605.41,503.30 605.74,503.41 606.06,503.52 606.38,503.63 606.70,503.74 607.02,503.85 607.34,503.95 607.67,504.06 607.99,504.17 608.31,504.28 608.63,504.39 608.95,504.50 609.28,504.61 609.60,504.72 609.92,504.83 610.24,504.94 610.56,505.05 610.88,505.16 611.21,505.27 611.53,505.38 611.85,505.49 612.17,505.60 612.49,505.71 612.82,505.82 613.14,505.92 613.46,506.03 613.78,506.14 614.10,506.25 614.42,506.37 614.75,506.48 615.07,506.59 615.39,506.70 615.71,506.81 616.03,506.92 616.35,507.03 616.68,507.14 617.00,507.25 617.32,507.36 617.64,507.47 617.96,507.58 618.29,507.69 618.61,507.80 618.93,507.91 619.25,508.02 619.57,508.13 619.89,508.24 620.22,508.36 620.54,508.47 620.86,508.58 621.18,508.69 621.50,508.80 621.83,508.91 622.15,509.02 622.47,509.13 622.79,509.24 623.11,509.36 623.43,509.47 623.76,509.58 624.08,509.69 624.40,509.80 624.72,509.91 625.04,510.03 625.36,510.14 625.69,510.25 626.01,510.36 626.33,510.47 626.65,510.58 626.97,510.70 627.30,510.81 627.62,510.92 627.94,511.03 628.26,511.15 628.58,511.26 628.90,511.37 629.23,511.48 629.55,511.59 629.87,511.71 630.19,511.82 630.51,511.93 630.84,512.04 631.16,512.16 631.48,512.27 631.80,512.38 632.12,512.49 632.44,512.61 632.77,512.72 633.09,512.83 633.41,512.95 633.73,513.06 634.05,513.17 634.37,513.28 634.70,513.40 635.02,513.51 635.34,513.62 635.66,513.74 635.98,513.85 636.31,513.96 636.63,514.08 636.95,514.19 637.27,514.30 637.59,514.42 637.91,514.53 638.24,514.64 638.56,514.76 638.88,514.87 639.20,514.98 639.52,515.10 639.85,515.21 640.17,515.32 640.49,515.44 640.81,515.55 641.13,515.66 641.45,515.78 641.78,515.89 642.10,516.01 642.42,516.12 642.74,516.23 643.06,516.35 643.38,516.46 643.71,516.58 644.03,516.69 644.35,516.80 644.67,516.92 644.99,517.03 645.32,517.15 645.64,517.26 645.96,517.38 646.28,517.49 646.60,517.60 646.92,517.72 647.25,517.83 647.57,517.95 647.89,518.06 648.21,518.18 648.53,518.29 648.86,518.41 649.18,518.52 649.50,518.64 649.82,518.75 650.14,518.87 650.46,518.98 650.79,519.10 651.11,519.21 651.43,519.33 651.75,519.44 652.07,519.56 652.39,519.67 652.72,519.79 653.04,519.90 653.36,520.02 653.68,520.13 654.00,520.25 654.33,520.36 654.65,520.48 654.97,520.59 655.29,520.71 655.61,520.82 655.93,520.94 656.26,521.05 656.58,521.17 656.90,521.29 657.22,521.40 657.54,521.52 657.87,521.63 658.19,521.75 658.51,521.86 658.83,521.98 659.15,522.09 659.47,522.21 659.80,522.33 660.12,522.44 660.44,522.56 660.76,522.67 661.08,522.79 661.40,522.91 661.73,523.02 662.05,523.14 662.37,523.25 662.69,523.37 663.01,523.49 663.34,523.60 663.66,523.72 663.98,523.83 664.30,523.95 664.62,524.07 664.94,524.18 665.27,524.30 665.59,524.42 665.91,524.53 666.23,524.65 666.55,524.77 666.88,524.88 667.20,525.00 667.52,525.11 667.84,525.23 668.16,525.35 668.48,525.46 668.81,525.58 669.13,525.70 669.45,525.81 669.77,525.93 670.09,526.05 670.41,526.16 670.74,526.28 671.06,526.40 671.38,526.52 671.70,526.63 672.02,526.75 672.35,526.87 672.67,526.98 672.99,527.10 673.31,527.22 673.63,527.33 673.95,527.45 674.28,527.57 674.60,527.69 674.92,527.80 675.24,527.92 675.56,528.04 675.89,528.15 676.21,528.27 676.53,528.39 676.85,528.51 677.17,528.62 677.49,528.74 677.82,528.86 678.14,528.98 678.46,529.09 678.78,529.21 679.10,529.33 679.42,529.45 679.75,529.56 680.07,529.68 680.39,529.80 680.71,529.92 681.03,530.03 681.36,530.15 681.68,530.27 682.00,530.39 682.32,530.50 682.64,530.62 682.96,530.74 683.29,530.86 683.61,530.97 683.93,531.09 684.25,531.21 684.57,531.33 684.90,531.45 685.22,531.56 685.54,531.68 685.86,531.80 686.18,531.92 686.50,532.04 686.83,532.15 687.15,532.27 687.47,532.39 687.79,532.51 688.11,532.63 688.43,532.74 688.76,532.86 689.08,532.98 689.40,533.10 689.72,533.22 690.04,533.34 690.37,533.45 690.69,533.57 691.01,533.69 691.33,533.81 691.65,533.93 691.97,534.05 692.30,534.16 692.62,534.28 692.94,534.40 693.26,534.52 693.58,534.64 693.91,534.76 694.23,534.87 694.55,534.99 694.87,535.11 695.19,535.23 695.51,535.35 695.84,535.47 696.16,535.59 696.48,535.70 696.80,535.82 697.12,535.94 697.44,536.06 697.77,536.18 698.09,536.30 698.41,536.42 698.73,536.53 699.05,536.65 699.38,536.77 699.70,536.89 700.02,537.01 700.34,537.13 700.66,537.25 700.98,537.37 701.31,537.48 701.63,537.60 701.95,537.72 702.27,537.84 702.59,537.96 702.92,538.08 703.24,538.20 703.56,538.32 703.88,538.44 704.20,538.56 704.52,538.67 704.85,538.79 705.17,538.91 705.49,539.03 705.81,539.15 706.13,539.27 706.45,539.39 706.78,539.51 707.10,539.63 707.42,539.75 707.74,539.87 708.06,539.98 708.39,540.10 708.71,540.22 709.03,540.34 709.35,540.46 709.67,540.58 709.99,540.70 710.32,540.82 710.64,540.94 710.96,541.06 711.28,541.18 711.60,541.30 711.93,541.42 712.25,541.53 712.57,541.65 712.89,541.77 713.21,541.89 713.53,542.01 713.86,542.13 714.18,542.25 714.50,542.37 714.82,542.49 715.14,542.61 715.46,542.73 715.79,542.85 716.11,542.97 716.43,543.09 716.75,543.21 717.07,543.33 717.40,543.45 717.72,543.57 718.04,543.68 718.36,543.80 718.68,543.92 719.00,544.04 719.33,544.16 719.65,544.28 719.97,544.40 720.29,544.52 720.61,544.64 720.94,544.76 721.26,544.88 721.58,545.00 721.90,545.12 722.22,545.24 722.54,545.36 722.87,545.48 723.19,545.60 723.51,545.72 723.83,545.84 724.15,545.96 724.47,546.08 724.80,546.20 725.12,546.32 725.44,546.44 725.76,546.56 726.08,546.68 726.41,546.80 726.73,546.92 727.05,547.04 727.37,547.15 727.69,547.27 728.01,547.39 728.34,547.51 728.66,547.63 728.98,547.75 729.30,547.87 729.62,547.99 729.95,548.11 730.27,548.23 730.59,548.35 730.91,548.47 731.23,548.59 731.55,548.71 731.88,548.83 732.20,548.95 732.52,549.07 732.84,549.19 733.16,549.31 733.48,549.43 733.81,549.55 734.13,549.67 734.45,549.79 734.77,549.91 735.09,550.03 735.42,550.15 735.74,550.27 736.06,550.39 736.38,550.51 736.70,550.63 737.02,550.75 737.35,550.87 737.67,550.99 737.99,551.11 738.31,551.23 738.63,551.35 738.96,551.47 739.28,551.59 739.60,551.71 739.92,551.83 740.24,551.95 740.56,552.07 740.89,552.19 741.21,552.31 741.53,552.43 741.85,552.55 742.17,552.67 742.49,552.79 742.82,552.91 743.14,553.03 743.46,553.15 743.78,553.27 744.10,553.39 744.43,553.51 744.75,553.63 745.07,553.75 745.39,553.87 745.71,553.99 746.03,554.11 746.36,554.23 746.68,554.35 747.00,554.47" fill="none" stroke="#ff7f0e" stroke-width="2.7" stroke-linejoin="round" stroke-linecap="square"/>
<polyline points="103.75,554.47 104.07,553.75 104.39,553.03 104.72,552.31 105.04,551.59 105.36,550.87 105.68,550.15 106.00,549.43 106.32,548.71 106.65,547.99 106.97,547.27 107.29,546.55 107.61,545.84 107.93,545.12 108.26,544.40 108.58,543.68 108.90,542.96 109.22,542.25 109.54,541.53 109.86,540.81 110.19,540.10 110.51,539.38 110.83,538.66 111.15,537.95 111.47,537.23 111.79,536.52 112.12,535.80 112.44,535.09 112.76,534.38 113.08,533.66 113.40,532.95 113.73,532.24 114.05,531.53 114.37,530.82 114.69,530.11 115.01,529.40 115.33,528.69 115.66,527.98 115.98,527.27 116.30,526.57 116.62,525.86 116.94,525.16 117.27,524.45 117.59,523.75 117.91,523.04 118.23,522.34 118.55,521.64 118.87,520.94 119.20,520.24 119.52,519.54 119.84,518.84 120.16,518.14 120.48,517.44 120.80,516.75 121.13,516.05 121.45,515.36 121.77,514.67 122.09,513.97 122.41,513.28 122.74,512.59 123.06,511.90 123.38,511.21 123.70,510.53 124.02,509.84 124.34,509.15 124.67,508.47 124.99,507.79 125.31,507.10 125.63,506.42 125.95,505.74 126.28,505.06 126.60,504.39 126.92,503.71 127.24,503.03 127.56,502.36 127.88,501.69 128.21,501.02 128.53,500.34 128.85,499.68 129.17,499.01 129.49,498.34 129.81,497.67 130.14,497.01 130.46,496.35 130.78,495.69 131.10,495.03 131.42,494.37 131.75,493.71 132.07,493.05 132.39,492.40 132.71,491.74 133.03,491.09 133.35,490.44 133.68,489.79 134.00,489.14 134.32,488.50 134.64,487.85 134.96,487.21 135.29,486.56 135.61,485.92 135.93,485.28 136.25,484.65 136.57,484.01 136.89,483.37 137.22,482.74 137.54,482.11 137.86,481.48 138.18,480.85 138.50,480.22 138.82,479.60 139.15,478.97 139.47,478.35 139.79,477.73 140.11,477.11 140.43,476.49 140.76,475.87 141.08,475.26 141.40,474.65 141.72,474.04 142.04,473.43 142.36,472.82 142.69,472.21 143.01,471.61 143.33,471.00 143.65,470.40 143.97,469.80 144.30,469.20 144.62,468.61 144.94,468.01 145.26,467.42 145.58,466.83 145.90,466.24 146.23,465.65 146.55,465.07 146.87,464.48 147.19,463.90 147.51,463.32 147.83,462.74 148.16,462.16 148.48,461.59 148.80,461.01 149.12,460.44 149.44,459.87 149.77,459.30 150.09,458.73 150.41,458.17 150.73,457.61 151.05,457.04 151.37,456.49 151.70,455.93 152.02,455.37 152.34,454.82 152.66,454.27 152.98,453.71 153.31,453.17 153.63,452.62 153.95,452.07 154.27,451.53 154.59,450.99 154.91,450.45 155.24,449.91 155.56,449.38 155.88,448.84 156.20,448.31 156.52,447.78 156.84,447.25 157.17,446.73 157.49,446.20 157.81,445.68 158.13,445.16 158.45,444.64 158.78,444.12 159.10,443.61 159.42,443.09 159.74,442.58 160.06,442.07 160.38,441.56 160.71,441.06 161.03,440.55 161.35,440.05 161.67,439.55 161.99,439.05 162.32,438.55 162.64,438.06 162.96,437.57 163.28,437.08 163.60,436.59 163.92,436.10 164.25,435.61 164.57,435.13 164.89,434.65 165.21,434.17 165.53,433.69 165.85,433.21 166.18,432.74 166.50,432.27 166.82,431.80 167.14,431.33 167.46,430.86 167.79,430.40 168.11,429.93 168.43,429.47 168.75,429.01 169.07,428.56 169.39,428.10 169.72,427.65 170.04,427.20 170.36,426.75 170.68,426.30 171.00,425.85 171.33,425.41 171.65,424.97 171.97,424.53 172.29,424.09 172.61,423.65 172.93,423.21 173.26,422.78 173.58,422.35 173.90,421.92 174.22,421.49 174.54,421.07 174.86,420.64 175.19,420.22 175.51,419.80 175.83,419.38 176.15,418.97 176.47,418.55 176.80,418.14 177.12,417.73 177.44,417.32 177.76,416.91 178.08,416.50 178.40,416.10 178.73,415.70 179.05,415.30 179.37,414.90 179.69,414.50 180.01,414.11 180.34,413.72 180.66,413.32 180.98,412.93 181.30,412.55 181.62,412.16 181.94,411.78 182.27,411.39 182.59,411.01 182.91,410.64 183.23,410.26 183.55,409.88 183.87,409.51 184.20,409.14 184.52,408.77 184.84,408.40 185.16,408.03 185.48,407.67 185.81,407.31 186.13,406.94 186.45,406.58 186.77,406.23 187.09,405.87 187.41,405.52 187.74,405.16 188.06,404.81 188.38,404.46 188.70,404.12 189.02,403.77 189.35,403.43 189.67,403.08 189.99,402.74 190.31,402.40 190.63,402.07 190.95,401.73 191.28,401.40 191.60,401.07 191.92,400.73 192.24,400.41 192.56,400.08 192.88,399.75 193.21,399.43 193.53,399.11 193.85,398.79 194.17,398.47 194.49,398.15 194.82,397.83 195.14,397.52 195.46,397.21 195.78,396.90 196.10,396.59 196.42,396.28 196.75,395.97 197.07,395.67 197.39,395.36 197.71,395.06 198.03,394.76 198.36,394.47 198.68,394.17 199.00,393.87 199.32,393.58 199.64,393.29 199.96,393.00 200.29,392.71 200.61,392.42 200.93,392.14 201.25,391.85 201.57,391.57 201.89,391.29 202.22,391.01 202.54,390.73 202.86,390.46 203.18,390.18 203.50,389.91 203.83,389.64 204.15,389.37 204.47,389.10 204.79,388.83 205.11,388.56 205.43,388.30 205.76,388.04 206.08,387.77 206.40,387.51 206.72,387.26 207.04,387.00 207.37,386.74 207.69,386.49 208.01,386.24 208.33,385.99 208.65,385.74 208.97,385.49 209.30,385.24 209.62,385.00 209.94,384.75 210.26,384.51 210.58,384.27 210.90,384.03 211.23,383.79 211.55,383.55 211.87,383.32 212.19,383.08 212.51,382.85 212.84,382.62 213.16,382.39 213.48,382.16 213.80,381.93 214.12,381.71 214.44,381.48 214.77,381.26 215.09,381.04 215.41,380.82 215.73,380.60 216.05,380.38 216.38,380.16 216.70,379.95 217.02,379.73 217.34,379.52 217.66,379.31 217.98,379.10 218.31,378.89 218.63,378.69 218.95,378.48 219.27,378.28 219.59,378.07 219.91,377.87 220.24,377.67 220.56,377.47 220.88,377.27 221.20,377.07 221.52,376.88 221.85,376.68 222.17,376.49 222.49,376.30 222.81,376.11 223.13,375.92 223.45,375.73 223.78,375.54 224.10,375.36 224.42,375.17 224.74,374.99 225.06,374.81 225.39,374.63 225.71,374.45 226.03,374.27 226.35,374.09 226.67,373.92 226.99,373.74 227.32,373.57 227.64,373.40 227.96,373.23 228.28,373.06 228.60,372.89 228.92,372.72 229.25,372.55 229.57,372.39 229.89,372.22 230.21,372.06 230.53,371.90 230.86,371.74 231.18,371.58 231.50,371.42 231.82,371.26 232.14,371.11 232.46,370.95 232.79,370.80 233.11,370.65 233.43,370.49 233.75,370.34 234.07,370.19 234.40,370.05 234.72,369.90 235.04,369.75 235.36,369.61 235.68,369.46 236.00,369.32 236.33,369.18 236.65,369.04 236.97,368.90 237.29,368.76 237.61,368.62 237.93,368.49 238.26,368.35 238.58,368.22 238.90,368.08 239.22,367.95 239.54,367.82 239.87,367.69 240.19,367.56 240.51,367.43 240.83,367.31 241.15,367.18 241.47,367.05 241.80,366.93 242.12,366.81 242.44,366.69 242.76,366.56 243.08,366.44 243.41,366.33 243.73,366.21 244.05,366.09 244.37,365.97 244.69,365.86 245.01,365.75 245.34,365.63 245.66,365.52 245.98,365.41 246.30,365.30 246.62,365.19 246.94,365.08 247.27,364.97 247.59,364.87 247.91,364.76 248.23,364.66 248.55,364.55 248.88,364.45 249.20,364.35 249.52,364.25 249.84,364.15 250.16,364.05 250.48,363.95 250.81,363.86 251.13,363.76 251.45,363.67 251.77,363.57 252.09,363.48 252.42,363.39 252.74,363.29 253.06,363.20 253.38,363.11 253.70,363.02 254.02,362.94 254.35,362.85 254.67,362.76 254.99,362.68 255.31,362.59 255.63,362.51 255.95,362.43 256.28,362.35 256.60,362.26 256.92,362.18 257.24,362.10 257.56,362.03 257.89,361.95 258.21,361.87 258.53,361.80 258.85,361.72 259.17,361.65 259.49,361.57 259.82,361.50 260.14,361.43 260.46,361.36 260.78,361.29 261.10,361.22 261.43,361.15 261.75,361.08 262.07,361.02 262.39,360.95 262.71,360.88 263.03,360.82 263.36,360.76 263.68,360.69 264.00,360.63 264.32,360.57 264.64,360.51 264.96,360.45 265.29,360.39 265.61,360.33 265.93,360.28 266.25,360.22 266.57,360.16 266.90,360.11 267.22,360.05 267.54,360.00 267.86,359.95 268.18,359.89 268.50,359.84 268.83,359.79 269.15,359.74 269.47,359.69 269.79,359.65 270.11,359.60 270.44,359.55 270.76,359.51 271.08,359.46 271.40,359.42 271.72,359.37 272.04,359.33 272.37,359.29 272.69,359.24 273.01,359.20 273.33,359.16 273.65,359.12 273.97,359.08 274.30,359.05 274.62,359.01 274.94,358.97 275.26,358.94 275.58,358.90 275.91,358.87 276.23,358.83 276.55,358.80 276.87,358.76 277.19,358.73 277.51,358.70 277.84,358.67 278.16,358.64 278.48,358.61 278.80,358.58 279.12,358.56 279.45,358.53 279.77,358.50 280.09,358.48 280.41,358.45 280.73,358.43 281.05,358.40 281.38,358.38 281.70,358.35 282.02,358.33 282.34,358.31 282.66,358.29 282.98,358.27 283.31,358.25 283.63,358.23 283.95,358.21 284.27,358.20 284.59,358.18 284.92,358.16 285.24,358.15 285.56,358.13 285.88,358.12 286.20,358.10 286.52,358.09 286.85,358.08 287.17,358.07 287.49,358.05 287.81,358.04 288.13,358.03 288.46,358.02 288.78,358.01 289.10,358.01 289.42,358.00 289.74,357.99 290.06,357.98 290.39,357.98 290.71,357.97 291.03,357.97 291.35,357.96 291.67,357.96 291.99,357.96 292.32,357.95 292.64,357.95 292.96,357.95 293.28,357.95 293.60,357.95 293.93,357.95 294.25,357.95 294.57,357.95 294.89,357.95 295.21,357.96 295.53,357.96 295.86,357.96 296.18,357.97 296.50,357.97 296.82,357.98 297.14,357.98 297.47,357.99 297.79,358.00 298.11,358.00 298.43,358.01 298.75,358.02 299.07,358.03 299.40,358.04 299.72,358.05 300.04,358.06 300.36,358.07 300.68,358.08 301.00,358.09 301.33,358.11 301.65,358.12 301.97,358.13 302.29,358.15 302.61,358.16 302.94,358.18 303.26,358.19 303.58,358.21 303.90,358.23 304.22,358.25 304.54,358.26 304.87,358.28 305.19,358.30 305.51,358.32 305.83,358.34 306.15,358.36 306.48,358.38 306.80,358.40 307.12,358.42 307.44,358.45 307.76,358.47 308.08,358.49 308.41,358.52 308.73,358.54 309.05,358.56 309.37,358.59 309.69,358.62 310.01,358.64 310.34,358.67 310.66,358.70 310.98,358.72 311.30,358.75 311.62,358.78 311.95,358.81 312.27,358.84 312.59,358.87 312.91,358.90 313.23,358.93 313.55,358.96 313.88,358.99 314.20,359.02 314.52,359.06 314.84,359.09 315.16,359.12 315.49,359.16 315.81,359.19 316.13,359.23 316.45,359.26 316.77,359.30 317.09,359.33 317.42,359.37 317.74,359.41 318.06,359.45 318.38,359.48 318.70,359.52 319.02,359.56 319.35,359.60 319.67,359.64 319.99,359.68 320.31,359.72 320.63,359.76 320.96,359.80 321.28,359.84 321.60,359.89 321.92,359.93 322.24,359.97 322.56,360.02 322.89,360.06 323.21,360.10 323.53,360.15 323.85,360.19 324.17,360.24 324.50,360.29 324.82,360.33 325.14,360.38 325.46,360.43 325.78,360.47 326.10,360.52 326.43,360.57 326.75,360.62 327.07,360.67 327.39,360.72 327.71,360.77 328.03,360.82 328.36,360.87 328.68,360.92 329.00,360.97 329.32,361.02 329.64,361.08 329.97,361.13 330.29,361.18 330.61,361.23 330.93,361.29 331.25,361.34 331.57,361.40 331.90,361.45 332.22,361.51 332.54,361.56 332.86,361.62 333.18,361.68 333.51,361.73 333.83,361.79 334.15,361.85 334.47,361.91 334.79,361.96 335.11,362.02 335.44,362.08 335.76,362.14 336.08,362.20 336.40,362.26 336.72,362.32 337.04,362.38 337.37,362.44 337.69,362.50 338.01,362.57 338.33,362.63 338.65,362.69 338.98,362.75 339.30,362.82 339.62,362.88 339.94,362.95 340.26,363.01 340.58,363.07 340.91,363.14 341.23,363.20 341.55,363.27 341.87,363.34 342.19,363.40 342.52,363.47 342.84,363.54 343.16,363.60 343.48,363.67 343.80,363.74 344.12,363.81 344.45,363.88 344.77,363.95 345.09,364.02 345.41,364.09 345.73,364.16 346.05,364.23 346.38,364.30 346.70,364.37 347.02,364.44 347.34,364.51 347.66,364.58 347.99,364.66 348.31,364.73 348.63,364.80 348.95,364.87 349.27,364.95 349.59,365.02 349.92,365.10 350.24,365.17 350.56,365.25 350.88,365.32 351.20,365.40 351.53,365.47 351.85,365.55 352.17,365.63 352.49,365.70 352.81,365.78 353.13,365.86 353.46,365.93 353.78,366.01 354.10,366.09 354.42,366.17 354.74,366.25 355.06,366.33 355.39,366.41 355.71,366.49 356.03,366.57 356.35,366.65 356.67,366.73 357.00,366.81 357.32,366.89 357.64,366.97 357.96,367.05 358.28,367.13 358.60,367.22 358.93,367.30 359.25,367.38 359.57,367.47 359.89,367.55 360.21,367.63 360.54,367.72 360.86,367.80 361.18,367.89 361.50,367.97 361.82,368.06 362.14,368.14 362.47,368.23 362.79,368.31 363.11,368.40 363.43,368.49 363.75,368.57 364.07,368.66 364.40,368.75 364.72,368.84 365.04,368.92 365.36,369.01 365.68,369.10 366.01,369.19 366.33,369.28 366.65,369.37 366.97,369.46 367.29,369.55 367.61,369.64 367.94,369.73 368.26,369.82 368.58,369.91 368.90,370.00 369.22,370.09 369.55,370.18 369.87,370.28 370.19,370.37 370.51,370.46 370.83,370.55 371.15,370.65 371.48,370.74 371.80,370.83 372.12,370.93 372.44,371.02 372.76,371.12 373.08,371.21 373.41,371.31 373.73,371.40 374.05,371.50 374.37,371.59 374.69,371.69 375.02,371.78 375.34,371.88 375.66,371.98 375.98,372.07 376.30,372.17 376.62,372.27 376.95,372.36 377.27,372.46 377.59,372.56 377.91,372.66 378.23,372.76 378.56,372.86 378.88,372.95 379.20,373.05 379.52,373.15 379.84,373.25 380.16,373.35 380.49,373.45 380.81,373.55 381.13,373.65 381.45,373.75 381.77,373.86 382.09,373.96 382.42,374.06 382.74,374.16 383.06,374.26 383.38,374.36 383.70,374.47 384.03,374.57 384.35,374.67 384.67,374.77 384.99,374.88 385.31,374.98 385.63,375.09 385.96,375.19 386.28,375.29 386.60,375.40 386.92,375.50 387.24,375.61 387.57,375.71 387.89,375.82 388.21,375.92 388.53,376.03 388.85,376.14 389.17,376.24 389.50,376.35 389.82,376.45 390.14,376.56 390.46,376.67 390.78,376.78 391.10,376.88 391.43,376.99 391.75,377.10 392.07,377.21 392.39,377.32 392.71,377.42 393.04,377.53 393.36,377.64 393.68,377.75 394.00,377.86 394.32,377.97 394.64,378.08 394.97,378.19 395.29,378.30 395.61,378.41 395.93,378.52 396.25,378.63 396.58,378.74 396.90,378.85 397.22,378.96 397.54,379.08 397.86,379.19 398.18,379.30 398.51,379.41 398.83,379.52 399.15,379.64 399.47,379.75 399.79,379.86 400.11,379.98 400.44,380.09 400.76,380.20 401.08,380.32 401.40,380.43 401.72,380.55 402.05,380.66 402.37,380.77 402.69,380.89 403.01,381.00 403.33,381.12 403.65,381.23 403.98,381.35 404.30,381.47 404.62,381.58 404.94,381.70 405.26,381.81 405.59,381.93 405.91,382.05 406.23,382.16 406.55,382.28 406.87,382.40 407.19,382.52 407.52,382.63 407.84,382.75 408.16,382.87 408.48,382.99 408.80,383.10 409.12,383.22 409.45,383.34 409.77,383.46 410.09,383.58 410.41,383.70 410.73,383.82 411.06,383.94 411.38,384.06 411.70,384.18 412.02,384.30 412.34,384.42 412.66,384.54 412.99,384.66 413.31,384.78 413.63,384.90 413.95,385.02 414.27,385.14 414.60,385.26 414.92,385.39 415.24,385.51 415.56,385.63 415.88,385.75 416.20,385.87 416.53,386.00 416.85,386.12 417.17,386.24 417.49,386.37 417.81,386.49 418.13,386.61 418.46,386.74 418.78,386.86 419.10,386.98 419.42,387.11 419.74,387.23 420.07,387.36 420.39,387.48 420.71,387.60 421.03,387.73 421.35,387.85 421.67,387.98 422.00,388.10 422.32,388.23 422.64,388.36 422.96,388.48 423.28,388.61 423.61,388.73 423.93,388.86 424.25,388.99 424.57,389.11 424.89,389.24 425.21,389.37 425.54,389.49 425.86,389.62 426.18,389.75 426.50,389.88 426.82,390.00 427.14,390.13 427.47,390.26 427.79,390.39 428.11,390.52 428.43,390.64 428.75,390.77 429.08,390.90 429.40,391.03 429.72,391.16 430.04,391.29 430.36,391.42 430.68,391.55 431.01,391.68 431.33,391.81 431.65,391.94 431.97,392.07 432.29,392.20 432.62,392.33 432.94,392.46 433.26,392.59 433.58,392.72 433.90,392.85 434.22,392.98 434.55,393.11 434.87,393.24 435.19,393.38 435.51,393.51 435.83,393.64 436.15,393.77 436.48,393.90 436.80,394.04 437.12,394.17 437.44,394.30 437.76,394.43 438.09,394.57 438.41,394.70 438.73,394.83 439.05,394.97 439.37,395.10 439.69,395.23 440.02,395.37 440.34,395.50 440.66,395.63 440.98,395.77 441.30,395.90 441.63,396.04 441.95,396.17 442.27,396.31 442.59,396.44 442.91,396.58 443.23,396.71 443.56,396.85 443.88,396.98 444.20,397.12 444.52,397.25 444.84,397.39 445.16,397.52 445.49,397.66 445.81,397.80 446.13,397.93 446.45,398.07 446.77,398.20 447.10,398.34 447.42,398.48 447.74,398.61 448.06,398.75 448.38,398.89 448.70,399.03 449.03,399.16 449.35,399.30 449.67,399.44 449.99,399.58 450.31,399.71 450.64,399.85 450.96,399.99 451.28,400.13 451.60,400.27 451.92,400.41 452.24,400.54 452.57,400.68 452.89,400.82 453.21,400.96 453.53,401.10 453.85,401.24 454.17,401.38 454.50,401.52 454.82,401.66 455.14,401.80 455.46,401.94 455.78,402.08 456.11,402.22 456.43,402.36 456.75,402.50 457.07,402.64 457.39,402.78 457.71,402.92 458.04,403.06 458.36,403.20 458.68,403.34 459.00,403.48 459.32,403.63 459.65,403.77 459.97,403.91 460.29,404.05 460.61,404.19 460.93,404.33 461.25,404.48 461.58,404.62 461.90,404.76 462.22,404.90 462.54,405.05 462.86,405.19 463.18,405.33 463.51,405.47 463.83,405.62 464.15,405.76 464.47,405.90 464.79,406.05 465.12,406.19 465.44,406.33 465.76,406.48 466.08,406.62 466.40,406.77 466.72,406.91 467.05,407.05 467.37,407.20 467.69,407.34 468.01,407.49 468.33,407.63 468.66,407.78 468.98,407.92 469.30,408.06 469.62,408.21 469.94,408.35 470.26,408.50 470.59,408.65 470.91,408.79 471.23,408.94 471.55,409.08 471.87,409.23 472.19,409.37 472.52,409.52 472.84,409.67 473.16,409.81 473.48,409.96 473.80,410.10 474.13,410.25 474.45,410.40 474.77,410.54 475.09,410.69 475.41,410.84 475.73,410.98 476.06,411.13 476.38,411.28 476.70,411.43 477.02,411.57 477.34,411.72 477.67,411.87 477.99,412.02 478.31,412.16 478.63,412.31 478.95,412.46 479.27,412.61 479.60,412.76 479.92,412.90 480.24,413.05 480.56,413.20 480.88,413.35 481.20,413.50 481.53,413.65 481.85,413.80 482.17,413.94 482.49,414.09 482.81,414.24 483.14,414.39 483.46,414.54 483.78,414.69 484.10,414.84 484.42,414.99 484.74,415.14 485.07,415.29 485.39,415.44 485.71,415.59 486.03,415.74 486.35,415.89 486.68,416.04 487.00,416.19 487.32,416.34 487.64,416.49 487.96,416.64 488.28,416.79 488.61,416.94 488.93,417.10 489.25,417.25 489.57,417.40 489.89,417.55 490.21,417.70 490.54,417.85 490.86,418.00 491.18,418.15 491.50,418.31 491.82,418.46 492.15,418.61 492.47,418.76 492.79,418.91 493.11,419.07 493.43,419.22 493.75,419.37 494.08,419.52 494.40,419.68 494.72,419.83 495.04,419.98 495.36,420.13 495.69,420.29 496.01,420.44 496.33,420.59 496.65,420.75 496.97,420.90 497.29,421.05 497.62,421.21 497.94,421.36 498.26,421.51 498.58,421.67 498.90,421.82 499.22,421.97 499.55,422.13 499.87,422.28 500.19,422.44 500.51,422.59 500.83,422.74 501.16,422.90 501.48,423.05 501.80,423.21 502.12,423.36 502.44,423.52 502.76,423.67 503.09,423.83 503.41,423.98 503.73,424.14 504.05,424.29 504.37,424.45 504.70,424.60 505.02,424.76 505.34,424.91 505.66,425.07 505.98,425.22 506.30,425.38 506.63,425.53 506.95,425.69 507.27,425.85 507.59,426.00 507.91,426.16 508.23,426.31 508.56,426.47 508.88,426.63 509.20,426.78 509.52,426.94 509.84,427.10 510.17,427.25 510.49,427.41 510.81,427.57 511.13,427.72 511.45,427.88 511.77,428.04 512.10,428.19 512.42,428.35 512.74,428.51 513.06,428.67 513.38,428.82 513.71,428.98 514.03,429.14 514.35,429.30 514.67,429.45 514.99,429.61 515.31,429.77 515.64,429.93 515.96,430.08 516.28,430.24 516.60,430.40 516.92,430.56 517.24,430.72 517.57,430.88 517.89,431.03 518.21,431.19 518.53,431.35 518.85,431.51 519.18,431.67 519.50,431.83 519.82,431.99 520.14,432.15 520.46,432.30 520.78,432.46 521.11,432.62 521.43,432.78 521.75,432.94 522.07,433.10 522.39,433.26 522.72,433.42 523.04,433.58 523.36,433.74 523.68,433.90 524.00,434.06 524.32,434.22 524.65,434.38 524.97,434.54 525.29,434.70 525.61,434.86 525.93,435.02 526.25,435.18 526.58,435.34 526.90,435.50 527.22,435.66 527.54,435.82 527.86,435.98 528.19,436.14 528.51,436.30 528.83,436.46 529.15,436.62 529.47,436.78 529.79,436.95 530.12,437.11 530.44,437.27 530.76,437.43 531.08,437.59 531.40,437.75 531.73,437.91 532.05,438.07 532.37,438.24 532.69,438.40 533.01,438.56 533.33,438.72 533.66,438.88 533.98,439.04 534.30,439.21 534.62,439.37 534.94,439.53 535.26,439.69 535.59,439.86 535.91,440.02 536.23,440.18 536.55,440.34 536.87,440.50 537.20,440.67 537.52,440.83 537.84,440.99 538.16,441.15 538.48,441.32 538.80,441.48 539.13,441.64 539.45,441.81 539.77,441.97 540.09,442.13 540.41,442.30 540.74,442.46 541.06,442.62 541.38,442.79 541.70,442.95 542.02,443.11 542.34,443.28 542.67,443.44 542.99,443.60 543.31,443.77 543.63,443.93 543.95,444.09 544.27,444.26 544.60,444.42 544.92,444.59 545.24,444.75 545.56,444.91 545.88,445.08 546.21,445.24 546.53,445.41 546.85,445.57 547.17,445.74 547.49,445.90 547.81,446.06 548.14,446.23 548.46,446.39 548.78,446.56 549.10,446.72 549.42,446.89 549.75,447.05 550.07,447.22 550.39,447.38 550.71,447.55 551.03,447.71 551.35,447.88 551.68,448.04 552.00,448.21 552.32,448.37 552.64,448.54 552.96,448.70 553.28,448.87 553.61,449.03 553.93,449.20 554.25,449.37 554.57,449.53 554.89,449.70 555.22,449.86 555.54,450.03 555.86,450.19 556.18,450.36 556.50,450.53 556.82,450.69 557.15,450.86 557.47,451.03 557.79,451.19 558.11,451.36 558.43,451.52 558.76,451.69 559.08,451.86 559.40,452.02 559.72,452.19 560.04,452.36 560.36,452.52 560.69,452.69 561.01,452.86 561.33,453.02 561.65,453.19 561.97,453.36 562.29,453.52 562.62,453.69 562.94,453.86 563.26,454.03 563.58,454.19 563.90,454.36 564.23,454.53 564.55,454.69 564.87,454.86 565.19,455.03 565.51,455.20 565.83,455.36 566.16,455.53 566.48,455.70 566.80,455.87 567.12,456.03 567.44,456.20 567.77,456.37 568.09,456.54 568.41,456.71 568.73,456.87 569.05,457.04 569.37,457.21 569.70,457.38 570.02,457.55 570.34,457.71 570.66,457.88 570.98,458.05 571.30,458.22 571.63,458.39 571.95,458.56 572.27,458.72 572.59,458.89 572.91,459.06 573.24,459.23 573.56,459.40 573.88,459.57 574.20,459.74 574.52,459.90 574.84,460.07 575.17,460.24 575.49,460.41 575.81,460.58 576.13,460.75 576.45,460.92 576.78,461.09 577.10,461.26 577.42,461.43 577.74,461.60 578.06,461.76 578.38,461.93 578.71,462.10 579.03,462.27 579.35,462.44 579.67,462.61 579.99,462.78 580.31,462.95 580.64,463.12 580.96,463.29 581.28,463.46 581.60,463.63 581.92,463.80 582.25,463.97 582.57,464.14 582.89,464.31 583.21,464.48 583.53,464.65 583.85,464.82 584.18,464.99 584.50,465.16 584.82,465.33 585.14,465.50 585.46,465.67 585.79,465.84 586.11,466.01 586.43,466.18 586.75,466.35 587.07,466.52 587.39,466.69 587.72,466.86 588.04,467.04 588.36,467.21 588.68,467.38 589.00,467.55 589.32,467.72 589.65,467.89 589.97,468.06 590.29,468.23 590.61,468.40 590.93,468.57 591.26,468.74 591.58,468.92 591.90,469.09 592.22,469.26 592.54,469.43 592.86,469.60 593.19,469.77 593.51,469.94 593.83,470.11 594.15,470.29 594.47,470.46 594.80,470.63 595.12,470.80 595.44,470.97 595.76,471.14 596.08,471.31 596.40,471.49 596.73,471.66 597.05,471.83 597.37,472.00 597.69,472.17 598.01,472.35 598.33,472.52 598.66,472.69 598.98,472.86 599.30,473.03 599.62,473.21 599.94,473.38 600.27,473.55 600.59,473.72 600.91,473.89 601.23,474.07 601.55,474.24 601.87,474.41 602.20,474.58 602.52,474.76 602.84,474.93 603.16,475.10 603.48,475.27 603.81,475.45 604.13,475.62 604.45,475.79 604.77,475.96 605.09,476.14 605.41,476.31 605.74,476.48 606.06,476.65 606.38,476.83 606.70,477.00 607.02,477.17 607.34,477.35 607.67,477.52 607.99,477.69 608.31,477.87 608.63,478.04 608.95,478.21 609.28,478.38 609.60,478.56 609.92,478.73 610.24,478.90 610.56,479.08 610.88,479.25 611.21,479.42 611.53,479.60 611.85,479.77 612.17,479.94 612.49,480.12 612.82,480.29 613.14,480.46 613.46,480.64 613.78,480.81 614.10,480.99 614.42,481.16 614.75,481.33 615.07,481.51 615.39,481.68 615.71,481.85 616.03,482.03 616.35,482.20 616.68,482.38 617.00,482.55 617.32,482.72 617.64,482.90 617.96,483.07 618.29,483.25 618.61,483.42 618.93,483.59 619.25,483.77 619.57,483.94 619.89,484.12 620.22,484.29 620.54,484.47 620.86,484.64 621.18,484.81 621.50,484.99 621.83,485.16 622.15,485.34 622.47,485.51 622.79,485.69 623.11,485.86 623.43,486.04 623.76,486.21 624.08,486.38 624.40,486.56 624.72,486.73 625.04,486.91 625.36,487.08 625.69,487.26 626.01,487.43 626.33,487.61 626.65,487.78 626.97,487.96 627.30,488.13 627.62,488.31 627.94,488.48 628.26,488.66 628.58,488.83 628.90,489.01 629.23,489.18 629.55,489.36 629.87,489.53 630.19,489.71 630.51,489.88 630.84,490.06 631.16,490.23 631.48,490.41 631.80,490.58 632.12,490.76 632.44,490.93 632.77,491.11 633.09,491.28 633.41,491.46 633.73,491.64 634.05,491.81 634.37,491.99 634.70,492.16 635.02,492.34 635.34,492.51 635.66,492.69 635.98,492.86 636.31,493.04 636.63,493.22 636.95,493.39 637.27,493.57 637.59,493.74 637.91,493.92 638.24,494.10 638.56,494.27 638.88,494.45 639.20,494.62 639.52,494.80 639.85,494.97 640.17,495.15 640.49,495.33 640.81,495.50 641.13,495.68 641.45,495.85 641.78,496.03 642.10,496.21 642.42,496.38 642.74,496.56 643.06,496.74 643.38,496.91 643.71,497.09 644.03,497.26 644.35,497.44 644.67,497.62 644.99,497.79 645.32,497.97 645.64,498.15 645.96,498.32 646.28,498.50 646.60,498.68 646.92,498.85 647.25,499.03 647.57,499.20 647.89,499.38 648.21,499.56 648.53,499.73 648.86,499.91 649.18,500.09 649.50,500.26 649.82,500.44 650.14,500.62 650.46,500.79 650.79,500.97 651.11,501.15 651.43,501.32 651.75,501.50 652.07,501.68 652.39,501.86 652.72,502.03 653.04,502.21 653.36,502.39 653.68,502.56 654.00,502.74 654.33,502.92 654.65,503.09 654.97,503.27 655.29,503.45 655.61,503.63 655.93,503.80 656.26,503.98 656.58,504.16 656.90,504.33 657.22,504.51 657.54,504.69 657.87,504.87 658.19,505.04 658.51,505.22 658.83,505.40 659.15,505.57 659.47,505.75 659.80,505.93 660.12,506.11 660.44,506.28 660.76,506.46 661.08,506.64 661.40,506.82 661.73,506.99 662.05,507.17 662.37,507.35 662.69,507.53 663.01,507.70 663.34,507.88 663.66,508.06 663.98,508.24 664.30,508.41 664.62,508.59 664.94,508.77 665.27,508.95 665.59,509.12 665.91,509.30 666.23,509.48 666.55,509.66 666.88,509.84 667.20,510.01 667.52,510.19 667.84,510.37 668.16,510.55 668.48,510.73 668.81,510.90 669.13,511.08 669.45,511.26 669.77,511.44 670.09,511.61 670.41,511.79 670.74,511.97 671.06,512.15 671.38,512.33 671.70,512.50 672.02,512.68 672.35,512.86 672.67,513.04 672.99,513.22 673.31,513.39 673.63,513.57 673.95,513.75 674.28,513.93 674.60,514.11 674.92,514.29 675.24,514.46 675.56,514.64 675.89,514.82 676.21,515.00 676.53,515.18 676.85,515.36 677.17,515.53 677.49,515.71 677.82,515.89 678.14,516.07 678.46,516.25 678.78,516.43 679.10,516.60 679.42,516.78 679.75,516.96 680.07,517.14 680.39,517.32 680.71,517.50 681.03,517.67 681.36,517.85 681.68,518.03 682.00,518.21 682.32,518.39 682.64,518.57 682.96,518.75 683.29,518.92 683.61,519.10 683.93,519.28 684.25,519.46 684.57,519.64 684.90,519.82 685.22,520.00 685.54,520.17 685.86,520.35 686.18,520.53 686.50,520.71 686.83,520.89 687.15,521.07 687.47,521.25 687.79,521.43 688.11,521.60 688.43,521.78 688.76,521.96 689.08,522.14 689.40,522.32 689.72,522.50 690.04,522.68 690.37,522.86 690.69,523.04 691.01,523.21 691.33,523.39 691.65,523.57 691.97,523.75 692.30,523.93 692.62,524.11 692.94,524.29 693.26,524.47 693.58,524.65 693.91,524.83 694.23,525.00 694.55,525.18 694.87,525.36 695.19,525.54 695.51,525.72 695.84,525.90 696.16,526.08 696.48,526.26 696.80,526.44 697.12,526.62 697.44,526.80 697.77,526.97 698.09,527.15 698.41,527.33 698.73,527.51 699.05,527.69 699.38,527.87 699.70,528.05 700.02,528.23 700.34,528.41 700.66,528.59 700.98,528.77 701.31,528.95 701.63,529.13 701.95,529.30 702.27,529.48 702.59,529.66 702.92,529.84 703.24,530.02 703.56,530.20 703.88,530.38 704.20,530.56 704.52,530.74 704.85,530.92 705.17,531.10 705.49,531.28 705.81,531.46 706.13,531.64 706.45,531.82 706.78,532.00 707.10,532.17 707.42,532.35 707.74,532.53 708.06,532.71 708.39,532.89 708.71,533.07 709.03,533.25 709.35,533.43 709.67,533.61 709.99,533.79 710.32,533.97 710.64,534.15 710.96,534.33 711.28,534.51 711.60,534.69 711.93,534.87 712.25,535.05 712.57,535.23 712.89,535.41 713.21,535.59 713.53,535.77 713.86,535.94 714.18,536.12 714.50,536.30 714.82,536.48 715.14,536.66 715.46,536.84 715.79,537.02 716.11,537.20 716.43,537.38 716.75,537.56 717.07,537.74 717.40,537.92 717.72,538.10 718.04,538.28 718.36,538.46 718.68,538.64 719.00,538.82 719.33,539.00 719.65,539.18 719.97,539.36 720.29,539.54 720.61,539.72 720.94,539.90 721.26,540.08 721.58,540.26 721.90,540.44 722.22,540.62 722.54,540.80 722.87,540.98 723.19,541.16 723.51,541.34 723.83,541.52 724.15,541.70 724.47,541.88 724.80,542.06 725.12,542.23 725.44,542.41 725.76,542.59 726.08,542.77 726.41,542.95 726.73,543.13 727.05,543.31 727.37,543.49 727.69,543.67 728.01,543.85 728.34,544.03 728.66,544.21 728.98,544.39 729.30,544.57 729.62,544.75 729.95,544.93 730.27,545.11 730.59,545.29 730.91,545.47 731.23,545.65 731.55,545.83 731.88,546.01 732.20,546.19 732.52,546.37 732.84,546.55 733.16,546.73 733.48,546.91 733.81,547.09 734.13,547.27 734.45,547.45 734.77,547.63 735.09,547.81 735.42,547.99 735.74,548.17 736.06,548.35 736.38,548.53 736.70,548.71 737.02,548.89 737.35,549.07 737.67,549.25 737.99,549.43 738.31,549.61 738.63,549.79 738.96,549.97 739.28,550.15 739.60,550.33 739.92,550.51 740.24,550.69 740.56,550.87 740.89,551.05 741.21,551.23 741.53,551.41 741.85,551.59 742.17,551.77 742.49,551.95 742.82,552.13 743.14,552.31 743.46,552.49 743.78,552.67 744.10,552.85 744.43,553.03 744.75,553.21 745.07,553.39 745.39,553.57 745.71,553.75 746.03,553.93 746.36,554.11 746.68,554.29 747.00,554.47" fill="none" stroke="#2ca02c" stroke-width="2.7" stroke-linejoin="round" stroke-linecap="square"/>
<polyline points="103.75,554.47 104.07,523.23 104.39,492.65 104.72,463.29 105.04,435.61 105.36,409.89 105.68,386.27 106.00,364.75 106.32,345.26 106.65,327.68 106.97,311.84 107.29,297.58 107.61,284.73 107.93,273.14 108.26,262.67 108.58,253.18 108.90,244.57 109.22,236.73 109.54,229.58 109.86,223.04 110.19,217.05 110.51,211.54 110.83,206.46 111.15,201.78 111.47,197.44 111.79,193.43 112.12,189.69 112.44,186.22 112.76,182.99 113.08,179.97 113.40,177.14 113.73,174.50 114.05,172.02 114.37,169.69 114.69,167.50 115.01,165.44 115.33,163.49 115.66,161.66 115.98,159.93 116.30,158.30 116.62,156.75 116.94,155.29 117.27,153.90 117.59,152.59 117.91,151.34 118.23,150.15 118.55,149.03 118.87,147.96 119.20,146.94 119.52,145.97 119.84,145.05 120.16,144.18 120.48,143.34 120.80,142.54 121.13,141.78 121.45,141.06 121.77,140.37 122.09,139.71 122.41,139.08 122.74,138.48 123.06,137.91 123.38,137.36 123.70,136.84 124.02,136.34 124.34,135.86 124.67,135.41 124.99,134.97 125.31,134.56 125.63,134.16 125.95,133.79 126.28,133.43 126.60,133.08 126.92,132.75 127.24,132.44 127.56,132.14 127.88,131.86 128.21,131.59 128.53,131.33 128.85,131.09 129.17,130.86 129.49,130.63 129.81,130.42 130.14,130.23 130.46,130.04 130.78,129.86 131.10,129.69 131.42,129.53 131.75,129.38 132.07,129.24 132.39,129.11 132.71,128.98 133.03,128.86 133.35,128.75 133.68,128.65 134.00,128.56 134.32,128.47 134.64,128.39 134.96,128.31 135.29,128.25 135.61,128.18 135.93,128.13 136.25,128.08 136.57,128.03 136.89,127.99 137.22,127.96 137.54,127.93 137.86,127.91 138.18,127.89 138.50,127.87 138.82,127.87 139.15,127.86 139.47,127.86 139.79,127.86 140.11,127.87 140.43,127.88 140.76,127.90 141.08,127.92 141.40,127.94 141.72,127.97 142.04,128.00 142.36,128.03 142.69,128.07 143.01,128.11 143.33,128.15 143.65,128.20 143.97,128.25 144.30,128.30 144.62,128.36 144.94,128.42 145.26,128.48 145.58,128.55 145.90,128.61 146.23,128.68 146.55,128.75 146.87,128.83 147.19,128.91 147.51,128.99 147.83,129.07 148.16,129.15 148.48,129.24 148.80,129.33 149.12,129.42 149.44,129.51 149.77,129.60 150.09,129.70 150.41,129.80 150.73,129.90 151.05,130.00 151.37,130.11 151.70,130.21 152.02,130.32 152.34,130.43 152.66,130.54 152.98,130.65 153.31,130.77 153.63,130.88 153.95,131.00 154.27,131.12 154.59,131.24 154.91,131.36 155.24,131.49 155.56,131.61 155.88,131.74 156.20,131.87 156.52,132.00 156.84,132.13 157.17,132.26 157.49,132.39 157.81,132.53 158.13,132.66 158.45,132.80 158.78,132.94 159.10,133.08 159.42,133.22 159.74,133.36 160.06,133.50 160.38,133.65 160.71,133.79 161.03,133.94 161.35,134.08 161.67,134.23 161.99,134.38 162.32,134.53 162.64,134.68 162.96,134.83 163.28,134.99 163.60,135.14 163.92,135.29 164.25,135.45 164.57,135.61 164.89,135.76 165.21,135.92 165.53,136.08 165.85,136.24 166.18,136.40 166.50,136.56 166.82,136.73 167.14,136.89 167.46,137.05 167.79,137.22 168.11,137.38 168.43,137.55 168.75,137.72 169.07,137.88 169.39,138.05 169.72,138.22 170.04,138.39 170.36,138.56 170.68,138.73 171.00,138.90 171.33,139.08 171.65,139.25 171.97,139.42 172.29,139.60 172.61,139.77 172.93,139.95 173.26,140.12 173.58,140.30 173.90,140.48 174.22,140.65 174.54,140.83 174.86,141.01 175.19,141.19 175.51,141.37 175.83,141.55 176.15,141.73 176.47,141.91 176.80,142.09 177.12,142.28 177.44,142.46 177.76,142.64 178.08,142.83 178.40,143.01 178.73,143.20 179.05,143.38 179.37,143.57 179.69,143.75 180.01,143.94 180.34,144.13 180.66,144.31 180.98,144.50 181.30,144.69 181.62,144.88 181.94,145.07 182.27,145.26 182.59,145.45 182.91,145.64 183.23,145.83 183.55,146.02 183.87,146.21 184.20,146.40 184.52,146.60 184.84,146.79 185.16,146.98 185.48,147.18 185.81,147.37 186.13,147.56 186.45,147.76 186.77,147.95 187.09,148.15 187.41,148.34 187.74,148.54 188.06,148.74 188.38,148.93 188.70,149.13 189.02,149.33 189.35,149.53 189.67,149.72 189.99,149.92 190.31,150.12 190.63,150.32 190.95,150.52 191.28,150.72 191.60,150.92 191.92,151.12 192.24,151.32 192.56,151.52 192.88,151.72 193.21,151.92 193.53,152.12 193.85,152.32 194.17,152.52 194.49,152.73 194.82,152.93 195.14,153.13 195.46,153.33 195.78,153.54 196.10,153.74 196.42,153.94 196.75,154.15 197.07,154.35 197.39,154.56 197.71,154.76 198.03,154.97 198.36,155.17 198.68,155.38 199.00,155.58 199.32,155.79 199.64,155.99 199.96,156.20 200.29,156.41 200.61,156.61 200.93,156.82 201.25,157.03 201.57,157.24 201.89,157.44 202.22,157.65 202.54,157.86 202.86,158.07 203.18,158.27 203.50,158.48 203.83,158.69 204.15,158.90 204.47,159.11 204.79,159.32 205.11,159.53 205.43,159.74 205.76,159.95 206.08,160.16 206.40,160.37 206.72,160.58 207.04,160.79 207.37,161.00 207.69,161.21 208.01,161.42 208.33,161.63 208.65,161.85 208.97,162.06 209.30,162.27 209.62,162.48 209.94,162.69 210.26,162.91 210.58,163.12 210.90,163.33 211.23,163.54 211.55,163.76 211.87,163.97 212.19,164.18 212.51,164.40 212.84,164.61 213.16,164.82 213.48,165.04 213.80,165.25 214.12,165.47 214.44,165.68 214.77,165.90 215.09,166.11 215.41,166.33 215.73,166.54 216.05,166.76 216.38,166.97 216.70,167.19 217.02,167.40 217.34,167.62 217.66,167.83 217.98,168.05 218.31,168.26 218.63,168.48 218.95,168.70 219.27,168.91 219.59,169.13 219.91,169.35 220.24,169.56 220.56,169.78 220.88,170.00 221.20,170.21 221.52,170.43 221.85,170.65 222.17,170.87 222.49,171.08 222.81,171.30 223.13,171.52 223.45,171.74 223.78,171.96 224.10,172.17 224.42,172.39 224.74,172.61 225.06,172.83 225.39,173.05 225.71,173.27 226.03,173.49 226.35,173.70 226.67,173.92 226.99,174.14 227.32,174.36 227.64,174.58 227.96,174.80 228.28,175.02 228.60,175.24 228.92,175.46 229.25,175.68 229.57,175.90 229.89,176.12 230.21,176.34 230.53,176.56 230.86,176.78 231.18,177.00 231.50,177.22 231.82,177.44 232.14,177.66 232.46,177.88 232.79,178.11 233.11,178.33 233.43,178.55 233.75,178.77 234.07,178.99 234.40,179.21 234.72,179.43 235.04,179.65 235.36,179.88 235.68,180.10 236.00,180.32 236.33,180.54 236.65,180.76 236.97,180.99 237.29,181.21 237.61,181.43 237.93,181.65 238.26,181.88 238.58,182.10 238.90,182.32 239.22,182.54 239.54,182.77 239.87,182.99 240.19,183.21 240.51,183.43 240.83,183.66 241.15,183.88 241.47,184.10 241.80,184.33 242.12,184.55 242.44,184.77 242.76,185.00 243.08,185.22 243.41,185.44 243.73,185.67 244.05,185.89 244.37,186.12 244.69,186.34 245.01,186.56 245.34,186.79 245.66,187.01 245.98,187.24 246.30,187.46 246.62,187.69 246.94,187.91 247.27,188.13 247.59,188.36 247.91,188.58 248.23,188.81 248.55,189.03 248.88,189.26 249.20,189.48 249.52,189.71 249.84,189.93 250.16,190.16 250.48,190.38 250.81,190.61 251.13,190.83 251.45,191.06 251.77,191.28 252.09,191.51 252.42,191.73 252.74,191.96 253.06,192.19 253.38,192.41 253.70,192.64 254.02,192.86 254.35,193.09 254.67,193.31 254.99,193.54 255.31,193.77 255.63,193.99 255.95,194.22 256.28,194.44 256.60,194.67 256.92,194.90 257.24,195.12 257.56,195.35 257.89,195.58 258.21,195.80 258.53,196.03 258.85,196.26 259.17,196.48 259.49,196.71 259.82,196.94 260.14,197.16 260.46,197.39 260.78,197.62 261.10,197.84 261.43,198.07 261.75,198.30 262.07,198.53 262.39,198.75 262.71,198.98 263.03,199.21 263.36,199.43 263.68,199.66 264.00,199.89 264.32,200.12 264.64,200.34 264.96,200.57 265.29,200.80 265.61,201.03 265.93,201.25 266.25,201.48 266.57,201.71 266.90,201.94 267.22,202.17 267.54,202.39 267.86,202.62 268.18,202.85 268.50,203.08 268.83,203.31 269.15,203.53 269.47,203.76 269.79,203.99 270.11,204.22 270.44,204.45 270.76,204.68 271.08,204.90 271.40,205.13 271.72,205.36 272.04,205.59 272.37,205.82 272.69,206.05 273.01,206.28 273.33,206.50 273.65,206.73 273.97,206.96 274.30,207.19 274.62,207.42 274.94,207.65 275.26,207.88 275.58,208.11 275.91,208.34 276.23,208.56 276.55,208.79 276.87,209.02 277.19,209.25 277.51,209.48 277.84,209.71 278.16,209.94 278.48,210.17 278.80,210.40 279.12,210.63 279.45,210.86 279.77,211.09 280.09,211.32 280.41,211.55 280.73,211.77 281.05,212.00 281.38,212.23 281.70,212.46 282.02,212.69 282.34,212.92 282.66,213.15 282.98,213.38 283.31,213.61 283.63,213.84 283.95,214.07 284.27,214.30 284.59,214.53 284.92,214.76 285.24,214.99 285.56,215.22 285.88,215.45 286.20,215.68 286.52,215.91 286.85,216.14 287.17,216.37 287.49,216.60 287.81,216.83 288.13,217.06 288.46,217.29 288.78,217.53 289.10,217.76 289.42,217.99 289.74,218.22 290.06,218.45 290.39,218.68 290.71,218.91 291.03,219.14 291.35,219.37 291.67,219.60 291.99,219.83 292.32,220.06 292.64,220.29 292.96,220.52 293.28,220.75 293.60,220.98 293.93,221.22 294.25,221.45 294.57,221.68 294.89,221.91 295.21,222.14 295.53,222.37 295.86,222.60 296.18,222.83 296.50,223.06 296.82,223.29 297.14,223.53 297.47,223.76 297.79,223.99 298.11,224.22 298.43,224.45 298.75,224.68 299.07,224.91 299.40,225.14 299.72,225.38 300.04,225.61 300.36,225.84 300.68,226.07 301.00,226.30 301.33,226.53 301.65,226.76 301.97,227.00 302.29,227.23 302.61,227.46 302.94,227.69 303.26,227.92 303.58,228.15 303.90,228.39 304.22,228.62 304.54,228.85 304.87,229.08 305.19,229.31 305.51,229.55 305.83,229.78 306.15,230.01 306.48,230.24 306.80,230.47 307.12,230.70 307.44,230.94 307.76,231.17 308.08,231.40 308.41,231.63 308.73,231.86 309.05,232.10 309.37,232.33 309.69,232.56 310.01,232.79 310.34,233.03 310.66,233.26 310.98,233.49 311.30,233.72 311.62,233.95 311.95,234.19 312.27,234.42 312.59,234.65 312.91,234.88 313.23,235.12 313.55,235.35 313.88,235.58 314.20,235.81 314.52,236.05 314.84,236.28 315.16,236.51 315.49,236.74 315.81,236.98 316.13,237.21 316.45,237.44 316.77,237.67 317.09,237.91 317.42,238.14 317.74,238.37 318.06,238.60 318.38,238.84 318.70,239.07 319.02,239.30 319.35,239.53 319.67,239.77 319.99,240.00 320.31,240.23 320.63,240.47 320.96,240.70 321.28,240.93 321.60,241.16 321.92,241.40 322.24,241.63 322.56,241.86 322.89,242.10 323.21,242.33 323.53,242.56 323.85,242.79 324.17,243.03 324.50,243.26 324.82,243.49 325.14,243.73 325.46,243.96 325.78,244.19 326.10,244.43 326.43,244.66 326.75,244.89 327.07,245.13 327.39,245.36 327.71,245.59 328.03,245.83 328.36,246.06 328.68,246.29 329.00,246.53 329.32,246.76 329.64,246.99 329.97,247.23 330.29,247.46 330.61,247.69 330.93,247.93 331.25,248.16 331.57,248.39 331.90,248.63 332.22,248.86 332.54,249.09 332.86,249.33 333.18,249.56 333.51,249.79 333.83,250.03 334.15,250.26 334.47,250.49 334.79,250.73 335.11,250.96 335.44,251.19 335.76,251.43 336.08,251.66 336.40,251.90 336.72,252.13 337.04,252.36 337.37,252.60 337.69,252.83 338.01,253.06 338.33,253.30 338.65,253.53 338.98,253.77 339.30,254.00 339.62,254.23 339.94,254.47 340.26,254.70 340.58,254.94 340.91,255.17 341.23,255.40 341.55,255.64 341.87,255.87 342.19,256.10 342.52,256.34 342.84,256.57 343.16,256.81 343.48,257.04 343.80,257.27 344.12,257.51 344.45,257.74 344.77,257.98 345.09,258.21 345.41,258.44 345.73,258.68 346.05,258.91 346.38,259.15 346.70,259.38 347.02,259.62 347.34,259.85 347.66,260.08 347.99,260.32 348.31,260.55 348.63,260.79 348.95,261.02 349.27,261.25 349.59,261.49 349.92,261.72 350.24,261.96 350.56,262.19 350.88,262.43 351.20,262.66 351.53,262.89 351.85,263.13 352.17,263.36 352.49,263.60 352.81,263.83 353.13,264.07 353.46,264.30 353.78,264.54 354.10,264.77 354.42,265.00 354.74,265.24 355.06,265.47 355.39,265.71 355.71,265.94 356.03,266.18 356.35,266.41 356.67,266.65 357.00,266.88 357.32,267.12 357.64,267.35 357.96,267.58 358.28,267.82 358.60,268.05 358.93,268.29 359.25,268.52 359.57,268.76 359.89,268.99 360.21,269.23 360.54,269.46 360.86,269.70 361.18,269.93 361.50,270.17 361.82,270.40 362.14,270.63 362.47,270.87 362.79,271.10 363.11,271.34 363.43,271.57 363.75,271.81 364.07,272.04 364.40,272.28 364.72,272.51 365.04,272.75 365.36,272.98 365.68,273.22 366.01,273.45 366.33,273.69 366.65,273.92 366.97,274.16 367.29,274.39 367.61,274.63 367.94,274.86 368.26,275.10 368.58,275.33 368.90,275.57 369.22,275.80 369.55,276.04 369.87,276.27 370.19,276.51 370.51,276.74 370.83,276.98 371.15,277.21 371.48,277.45 371.80,277.68 372.12,277.92 372.44,278.15 372.76,278.39 373.08,278.62 373.41,278.86 373.73,279.09 374.05,279.33 374.37,279.56 374.69,279.80 375.02,280.03 375.34,280.27 375.66,280.50 375.98,280.74 376.30,280.97 376.62,281.21 376.95,281.44 377.27,281.68 377.59,281.91 377.91,282.15 378.23,282.38 378.56,282.62 378.88,282.86 379.20,283.09 379.52,283.33 379.84,283.56 380.16,283.80 380.49,284.03 380.81,284.27 381.13,284.50 381.45,284.74 381.77,284.97 382.09,285.21 382.42,285.44 382.74,285.68 383.06,285.91 383.38,286.15 383.70,286.39 384.03,286.62 384.35,286.86 384.67,287.09 384.99,287.33 385.31,287.56 385.63,287.80 385.96,288.03 386.28,288.27 386.60,288.50 386.92,288.74 387.24,288.98 387.57,289.21 387.89,289.45 388.21,289.68 388.53,289.92 388.85,290.15 389.17,290.39 389.50,290.62 389.82,290.86 390.14,291.10 390.46,291.33 390.78,291.57 391.10,291.80 391.43,292.04 391.75,292.27 392.07,292.51 392.39,292.74 392.71,292.98 393.04,293.22 393.36,293.45 393.68,293.69 394.00,293.92 394.32,294.16 394.64,294.39 394.97,294.63 395.29,294.87 395.61,295.10 395.93,295.34 396.25,295.57 396.58,295.81 396.90,296.04 397.22,296.28 397.54,296.52 397.86,296.75 398.18,296.99 398.51,297.22 398.83,297.46 399.15,297.69 399.47,297.93 399.79,298.17 400.11,298.40 400.44,298.64 400.76,298.87 401.08,299.11 401.40,299.35 401.72,299.58 402.05,299.82 402.37,300.05 402.69,300.29 403.01,300.52 403.33,300.76 403.65,301.00 403.98,301.23 404.30,301.47 404.62,301.70 404.94,301.94 405.26,302.18 405.59,302.41 405.91,302.65 406.23,302.88 406.55,303.12 406.87,303.36 407.19,303.59 407.52,303.83 407.84,304.06 408.16,304.30 408.48,304.54 408.80,304.77 409.12,305.01 409.45,305.24 409.77,305.48 410.09,305.72 410.41,305.95 410.73,306.19 411.06,306.42 411.38,306.66 411.70,306.90 412.02,307.13 412.34,307.37 412.66,307.60 412.99,307.84 413.31,308.08 413.63,308.31 413.95,308.55 414.27,308.78 414.60,309.02 414.92,309.26 415.24,309.49 415.56,309.73 415.88,309.97 416.20,310.20 416.53,310.44 416.85,310.67 417.17,310.91 417.49,311.15 417.81,311.38 418.13,311.62 418.46,311.86 418.78,312.09 419.10,312.33 419.42,312.56 419.74,312.80 420.07,313.04 420.39,313.27 420.71,313.51 421.03,313.74 421.35,313.98 421.67,314.22 422.00,314.45 422.32,314.69 422.64,314.93 422.96,315.16 423.28,315.40 423.61,315.64 423.93,315.87 424.25,316.11 424.57,316.34 424.89,316.58 425.21,316.82 425.54,317.05 425.86,317.29 426.18,317.53 426.50,317.76 426.82,318.00 427.14,318.23 427.47,318.47 427.79,318.71 428.11,318.94 428.43,319.18 428.75,319.42 429.08,319.65 429.40,319.89 429.72,320.13 430.04,320.36 430.36,320.60 430.68,320.83 431.01,321.07 431.33,321.31 431.65,321.54 431.97,321.78 432.29,322.02 432.62,322.25 432.94,322.49 433.26,322.73 433.58,322.96 433.90,323.20 434.22,323.44 434.55,323.67 434.87,323.91 435.19,324.15 435.51,324.38 435.83,324.62 436.15,324.85 436.48,325.09 436.80,325.33 437.12,325.56 437.44,325.80 437.76,326.04 438.09,326.27 438.41,326.51 438.73,326.75 439.05,326.98 439.37,327.22 439.69,327.46 440.02,327.69 440.34,327.93 440.66,328.17 440.98,328.40 441.30,328.64 441.63,328.88 441.95,329.11 442.27,329.35 442.59,329.59 442.91,329.82 443.23,330.06 443.56,330.30 443.88,330.53 444.20,330.77 444.52,331.01 444.84,331.24 445.16,331.48 445.49,331.72 445.81,331.95 446.13,332.19 446.45,332.43 446.77,332.66 447.10,332.90 447.42,333.14 447.74,333.37 448.06,333.61 448.38,333.85 448.70,334.08 449.03,334.32 449.35,334.56 449.67,334.79 449.99,335.03 450.31,335.27 450.64,335.50 450.96,335.74 451.28,335.98 451.60,336.21 451.92,336.45 452.24,336.69 452.57,336.92 452.89,337.16 453.21,337.40 453.53,337.63 453.85,337.87 454.17,338.11 454.50,338.34 454.82,338.58 455.14,338.82 455.46,339.05 455.78,339.29 456.11,339.53 456.43,339.76 456.75,340.00 457.07,340.24 457.39,340.48 457.71,340.71 458.04,340.95 458.36,341.19 458.68,341.42 459.00,341.66 459.32,341.90 459.65,342.13 459.97,342.37 460.29,342.61 460.61,342.84 460.93,343.08 461.25,343.32 461.58,343.55 461.90,343.79 462.22,344.03 462.54,344.26 462.86,344.50 463.18,344.74 463.51,344.98 463.83,345.21 464.15,345.45 464.47,345.69 464.79,345.92 465.12,346.16 465.44,346.40 465.76,346.63 466.08,346.87 466.40,347.11 466.72,347.34 467.05,347.58 467.37,347.82 467.69,348.06 468.01,348.29 468.33,348.53 468.66,348.77 468.98,349.00 469.30,349.24 469.62,349.48 469.94,349.71 470.26,349.95 470.59,350.19 470.91,350.43 471.23,350.66 471.55,350.90 471.87,351.14 472.19,351.37 472.52,351.61 472.84,351.85 473.16,352.08 473.48,352.32 473.80,352.56 474.13,352.80 474.45,353.03 474.77,353.27 475.09,353.51 475.41,353.74 475.73,353.98 476.06,354.22 476.38,354.45 476.70,354.69 477.02,354.93 477.34,355.17 477.67,355.40 477.99,355.64 478.31,355.88 478.63,356.11 478.95,356.35 479.27,356.59 479.60,356.83 479.92,357.06 480.24,357.30 480.56,357.54 480.88,357.77 481.20,358.01 481.53,358.25 481.85,358.48 482.17,358.72 482.49,358.96 482.81,359.20 483.14,359.43 483.46,359.67 483.78,359.91 484.10,360.14 484.42,360.38 484.74,360.62 485.07,360.86 485.39,361.09 485.71,361.33 486.03,361.57 486.35,361.80 486.68,362.04 487.00,362.28 487.32,362.52 487.64,362.75 487.96,362.99 488.28,363.23 488.61,363.46 488.93,363.70 489.25,363.94 489.57,364.18 489.89,364.41 490.21,364.65 490.54,364.89 490.86,365.13 491.18,365.36 491.50,365.60 491.82,365.84 492.15,366.07 492.47,366.31 492.79,366.55 493.11,366.79 493.43,367.02 493.75,367.26 494.08,367.50 494.40,367.73 494.72,367.97 495.04,368.21 495.36,368.45 495.69,368.68 496.01,368.92 496.33,369.16 496.65,369.40 496.97,369.63 497.29,369.87 497.62,370.11 497.94,370.34 498.26,370.58 498.58,370.82 498.90,371.06 499.22,371.29 499.55,371.53 499.87,371.77 500.19,372.01 500.51,372.24 500.83,372.48 501.16,372.72 501.48,372.95 501.80,373.19 502.12,373.43 502.44,373.67 502.76,373.90 503.09,374.14 503.41,374.38 503.73,374.62 504.05,374.85 504.37,375.09 504.70,375.33 505.02,375.57 505.34,375.80 505.66,376.04 505.98,376.28 506.30,376.51 506.63,376.75 506.95,376.99 507.27,377.23 507.59,377.46 507.91,377.70 508.23,377.94 508.56,378.18 508.88,378.41 509.20,378.65 509.52,378.89 509.84,379.13 510.17,379.36 510.49,379.60 510.81,379.84 511.13,380.07 511.45,380.31 511.77,380.55 512.10,380.79 512.42,381.02 512.74,381.26 513.06,381.50 513.38,381.74 513.71,381.97 514.03,382.21 514.35,382.45 514.67,382.69 514.99,382.92 515.31,383.16 515.64,383.40 515.96,383.64 516.28,383.87 516.60,384.11 516.92,384.35 517.24,384.59 517.57,384.82 517.89,385.06 518.21,385.30 518.53,385.54 518.85,385.77 519.18,386.01 519.50,386.25 519.82,386.49 520.14,386.72 520.46,386.96 520.78,387.20 521.11,387.44 521.43,387.67 521.75,387.91 522.07,388.15 522.39,388.38 522.72,388.62 523.04,388.86 523.36,389.10 523.68,389.33 524.00,389.57 524.32,389.81 524.65,390.05 524.97,390.28 525.29,390.52 525.61,390.76 525.93,391.00 526.25,391.23 526.58,391.47 526.90,391.71 527.22,391.95 527.54,392.18 527.86,392.42 528.19,392.66 528.51,392.90 528.83,393.13 529.15,393.37 529.47,393.61 529.79,393.85 530.12,394.08 530.44,394.32 530.76,394.56 531.08,394.80 531.40,395.04 531.73,395.27 532.05,395.51 532.37,395.75 532.69,395.99 533.01,396.22 533.33,396.46 533.66,396.70 533.98,396.94 534.30,397.17 534.62,397.41 534.94,397.65 535.26,397.89 535.59,398.12 535.91,398.36 536.23,398.60 536.55,398.84 536.87,399.07 537.20,399.31 537.52,399.55 537.84,399.79 538.16,400.02 538.48,400.26 538.80,400.50 539.13,400.74 539.45,400.97 539.77,401.21 540.09,401.45 540.41,401.69 540.74,401.92 541.06,402.16 541.38,402.40 541.70,402.64 542.02,402.87 542.34,403.11 542.67,403.35 542.99,403.59 543.31,403.83 543.63,404.06 543.95,404.30 544.27,404.54 544.60,404.78 544.92,405.01 545.24,405.25 545.56,405.49 545.88,405.73 546.21,405.96 546.53,406.20 546.85,406.44 547.17,406.68 547.49,406.91 547.81,407.15 548.14,407.39 548.46,407.63 548.78,407.87 549.10,408.10 549.42,408.34 549.75,408.58 550.07,408.82 550.39,409.05 550.71,409.29 551.03,409.53 551.35,409.77 551.68,410.00 552.00,410.24 552.32,410.48 552.64,410.72 552.96,410.95 553.28,411.19 553.61,411.43 553.93,411.67 554.25,411.91 554.57,412.14 554.89,412.38 555.22,412.62 555.54,412.86 555.86,413.09 556.18,413.33 556.50,413.57 556.82,413.81 557.15,414.04 557.47,414.28 557.79,414.52 558.11,414.76 558.43,415.00 558.76,415.23 559.08,415.47 559.40,415.71 559.72,415.95 560.04,416.18 560.36,416.42 560.69,416.66 561.01,416.90 561.33,417.13 561.65,417.37 561.97,417.61 562.29,417.85 562.62,418.09 562.94,418.32 563.26,418.56 563.58,418.80 563.90,419.04 564.23,419.27 564.55,419.51 564.87,419.75 565.19,419.99 565.51,420.23 565.83,420.46 566.16,420.70 566.48,420.94 566.80,421.18 567.12,421.41 567.44,421.65 567.77,421.89 568.09,422.13 568.41,422.37 568.73,422.60 569.05,422.84 569.37,423.08 569.70,423.32 570.02,423.55 570.34,423.79 570.66,424.03 570.98,424.27 571.30,424.50 571.63,424.74 571.95,424.98 572.27,425.22 572.59,425.46 572.91,425.69 573.24,425.93 573.56,426.17 573.88,426.41 574.20,426.64 574.52,426.88 574.84,427.12 575.17,427.36 575.49,427.60 575.81,427.83 576.13,428.07 576.45,428.31 576.78,428.55 577.10,428.78 577.42,429.02 577.74,429.26 578.06,429.50 578.38,429.74 578.71,429.97 579.03,430.21 579.35,430.45 579.67,430.69 579.99,430.93 580.31,431.16 580.64,431.40 580.96,431.64 581.28,431.88 581.60,432.11 581.92,432.35 582.25,432.59 582.57,432.83 582.89,433.07 583.21,433.30 583.53,433.54 583.85,433.78 584.18,434.02 584.50,434.25 584.82,434.49 585.14,434.73 585.46,434.97 585.79,435.21 586.11,435.44 586.43,435.68 586.75,435.92 587.07,436.16 587.39,436.40 587.72,436.63 588.04,436.87 588.36,437.11 588.68,437.35 589.00,437.58 589.32,437.82 589.65,438.06 589.97,438.30 590.29,438.54 590.61,438.77 590.93,439.01 591.26,439.25 591.58,439.49 591.90,439.73 592.22,439.96 592.54,440.20 592.86,440.44 593.19,440.68 593.51,440.91 593.83,441.15 594.15,441.39 594.47,441.63 594.80,441.87 595.12,442.10 595.44,442.34 595.76,442.58 596.08,442.82 596.40,443.06 596.73,443.29 597.05,443.53 597.37,443.77 597.69,444.01 598.01,444.24 598.33,444.48 598.66,444.72 598.98,444.96 599.30,445.20 599.62,445.43 599.94,445.67 600.27,445.91 600.59,446.15 600.91,446.39 601.23,446.62 601.55,446.86 601.87,447.10 602.20,447.34 602.52,447.58 602.84,447.81 603.16,448.05 603.48,448.29 603.81,448.53 604.13,448.76 604.45,449.00 604.77,449.24 605.09,449.48 605.41,449.72 605.74,449.95 606.06,450.19 606.38,450.43 606.70,450.67 607.02,450.91 607.34,451.14 607.67,451.38 607.99,451.62 608.31,451.86 608.63,452.10 608.95,452.33 609.28,452.57 609.60,452.81 609.92,453.05 610.24,453.29 610.56,453.52 610.88,453.76 611.21,454.00 611.53,454.24 611.85,454.48 612.17,454.71 612.49,454.95 612.82,455.19 613.14,455.43 613.46,455.66 613.78,455.90 614.10,456.14 614.42,456.38 614.75,456.62 615.07,456.85 615.39,457.09 615.71,457.33 616.03,457.57 616.35,457.81 616.68,458.04 617.00,458.28 617.32,458.52 617.64,458.76 617.96,459.00 618.29,459.23 618.61,459.47 618.93,459.71 619.25,459.95 619.57,460.19 619.89,460.42 620.22,460.66 620.54,460.90 620.86,461.14 621.18,461.38 621.50,461.61 621.83,461.85 622.15,462.09 622.47,462.33 622.79,462.57 623.11,462.80 623.43,463.04 623.76,463.28 624.08,463.52 624.40,463.76 624.72,463.99 625.04,464.23 625.36,464.47 625.69,464.71 626.01,464.95 626.33,465.18 626.65,465.42 626.97,465.66 627.30,465.90 627.62,466.14 627.94,466.37 628.26,466.61 628.58,466.85 628.90,467.09 629.23,467.33 629.55,467.56 629.87,467.80 630.19,468.04 630.51,468.28 630.84,468.52 631.16,468.75 631.48,468.99 631.80,469.23 632.12,469.47 632.44,469.71 632.77,469.94 633.09,470.18 633.41,470.42 633.73,470.66 634.05,470.90 634.37,471.13 634.70,471.37 635.02,471.61 635.34,471.85 635.66,472.09 635.98,472.32 636.31,472.56 636.63,472.80 636.95,473.04 637.27,473.28 637.59,473.51 637.91,473.75 638.24,473.99 638.56,474.23 638.88,474.47 639.20,474.70 639.52,474.94 639.85,475.18 640.17,475.42 640.49,475.66 640.81,475.89 641.13,476.13 641.45,476.37 641.78,476.61 642.10,476.85 642.42,477.08 642.74,477.32 643.06,477.56 643.38,477.80 643.71,478.04 644.03,478.27 644.35,478.51 644.67,478.75 644.99,478.99 645.32,479.23 645.64,479.46 645.96,479.70 646.28,479.94 646.60,480.18 646.92,480.42 647.25,480.65 647.57,480.89 647.89,481.13 648.21,481.37 648.53,481.61 648.86,481.84 649.18,482.08 649.50,482.32 649.82,482.56 650.14,482.80 650.46,483.03 650.79,483.27 651.11,483.51 651.43,483.75 651.75,483.99 652.07,484.22 652.39,484.46 652.72,484.70 653.04,484.94 653.36,485.18 653.68,485.42 654.00,485.65 654.33,485.89 654.65,486.13 654.97,486.37 655.29,486.61 655.61,486.84 655.93,487.08 656.26,487.32 656.58,487.56 656.90,487.80 657.22,488.03 657.54,488.27 657.87,488.51 658.19,488.75 658.51,488.99 658.83,489.22 659.15,489.46 659.47,489.70 659.80,489.94 660.12,490.18 660.44,490.41 660.76,490.65 661.08,490.89 661.40,491.13 661.73,491.37 662.05,491.60 662.37,491.84 662.69,492.08 663.01,492.32 663.34,492.56 663.66,492.80 663.98,493.03 664.30,493.27 664.62,493.51 664.94,493.75 665.27,493.99 665.59,494.22 665.91,494.46 666.23,494.70 666.55,494.94 666.88,495.18 667.20,495.41 667.52,495.65 667.84,495.89 668.16,496.13 668.48,496.37 668.81,496.60 669.13,496.84 669.45,497.08 669.77,497.32 670.09,497.56 670.41,497.79 670.74,498.03 671.06,498.27 671.38,498.51 671.70,498.75 672.02,498.99 672.35,499.22 672.67,499.46 672.99,499.70 673.31,499.94 673.63,500.18 673.95,500.41 674.28,500.65 674.60,500.89 674.92,501.13 675.24,501.37 675.56,501.60 675.89,501.84 676.21,502.08 676.53,502.32 676.85,502.56 677.17,502.79 677.49,503.03 677.82,503.27 678.14,503.51 678.46,503.75 678.78,503.99 679.10,504.22 679.42,504.46 679.75,504.70 680.07,504.94 680.39,505.18 680.71,505.41 681.03,505.65 681.36,505.89 681.68,506.13 682.00,506.37 682.32,506.60 682.64,506.84 682.96,507.08 683.29,507.32 683.61,507.56 683.93,507.80 684.25,508.03 684.57,508.27 684.90,508.51 685.22,508.75 685.54,508.99 685.86,509.22 686.18,509.46 686.50,509.70 686.83,509.94 687.15,510.18 687.47,510.41 687.79,510.65 688.11,510.89 688.43,511.13 688.76,511.37 689.08,511.60 689.40,511.84 689.72,512.08 690.04,512.32 690.37,512.56 690.69,512.80 691.01,513.03 691.33,513.27 691.65,513.51 691.97,513.75 692.30,513.99 692.62,514.22 692.94,514.46 693.26,514.70 693.58,514.94 693.91,515.18 694.23,515.41 694.55,515.65 694.87,515.89 695.19,516.13 695.51,516.37 695.84,516.61 696.16,516.84 696.48,517.08 696.80,517.32 697.12,517.56 697.44,517.80 697.77,518.03 698.09,518.27 698.41,518.51 698.73,518.75 699.05,518.99 699.38,519.22 699.70,519.46 700.02,519.70 700.34,519.94 700.66,520.18 700.98,520.42 701.31,520.65 701.63,520.89 701.95,521.13 702.27,521.37 702.59,521.61 702.92,521.84 703.24,522.08 703.56,522.32 703.88,522.56 704.20,522.80 704.52,523.03 704.85,523.27 705.17,523.51 705.49,523.75 705.81,523.99 706.13,524.23 706.45,524.46 706.78,524.70 707.10,524.94 707.42,525.18 707.74,525.42 708.06,525.65 708.39,525.89 708.71,526.13 709.03,526.37 709.35,526.61 709.67,526.84 709.99,527.08 710.32,527.32 710.64,527.56 710.96,527.80 711.28,528.04 711.60,528.27 711.93,528.51 712.25,528.75 712.57,528.99 712.89,529.23 713.21,529.46 713.53,529.70 713.86,529.94 714.18,530.18 714.50,530.42 714.82,530.66 715.14,530.89 715.46,531.13 715.79,531.37 716.11,531.61 716.43,531.85 716.75,532.08 717.07,532.32 717.40,532.56 717.72,532.80 718.04,533.04 718.36,533.27 718.68,533.51 719.00,533.75 719.33,533.99 719.65,534.23 719.97,534.47 720.29,534.70 720.61,534.94 720.94,535.18 721.26,535.42 721.58,535.66 721.90,535.89 722.22,536.13 722.54,536.37 722.87,536.61 723.19,536.85 723.51,537.09 723.83,537.32 724.15,537.56 724.47,537.80 724.80,538.04 725.12,538.28 725.44,538.51 725.76,538.75 726.08,538.99 726.41,539.23 726.73,539.47 727.05,539.70 727.37,539.94 727.69,540.18 728.01,540.42 728.34,540.66 728.66,540.90 728.98,541.13 729.30,541.37 729.62,541.61 729.95,541.85 730.27,542.09 730.59,542.32 730.91,542.56 731.23,542.80 731.55,543.04 731.88,543.28 732.20,543.52 732.52,543.75 732.84,543.99 733.16,544.23 733.48,544.47 733.81,544.71 734.13,544.94 734.45,545.18 734.77,545.42 735.09,545.66 735.42,545.90 735.74,546.13 736.06,546.37 736.38,546.61 736.70,546.85 737.02,547.09 737.35,547.33 737.67,547.56 737.99,547.80 738.31,548.04 738.63,548.28 738.96,548.52 739.28,548.75 739.60,548.99 739.92,549.23 740.24,549.47 740.56,549.71 740.89,549.95 741.21,550.18 741.53,550.42 741.85,550.66 742.17,550.90 742.49,551.14 742.82,551.37 743.14,551.61 743.46,551.85 743.78,552.09 744.10,552.33 744.43,552.56 744.75,552.80 745.07,553.04 745.39,553.28 745.71,553.52 746.03,553.76 746.36,553.99 746.68,554.23 747.00,554.47" fill="none" stroke="#d62728" stroke-width="2.7" stroke-linejoin="round" stroke-linecap="square"/>
</g>
<g stroke="#000" stroke-linecap="square"><line x1="103.75" y1="74.76" x2="103.75" y2="554.47" stroke-width="1.44"/><line x1="103.75" y1="554.47" x2="747.00" y2="554.47" stroke-width="1.44"/><line x1="103.75" y1="74.76" x2="747.00" y2="74.76" stroke-width="1.44"/><line x1="746.9" y1="74.76" x2="746.9" y2="554.47" stroke-width="1.6"/></g>
<g stroke="#000" stroke-width="1.44"><line x1="103.75" y1="554.47" x2="103.75" y2="560.77"/><line x1="246.69" y1="554.47" x2="246.69" y2="560.77"/><line x1="389.64" y1="554.47" x2="389.64" y2="560.77"/><line x1="532.58" y1="554.47" x2="532.58" y2="560.77"/><line x1="675.53" y1="554.47" x2="675.53" y2="560.77"/><line x1="97.45" y1="554.47" x2="103.75" y2="554.47"/><line x1="97.45" y1="447.87" x2="103.75" y2="447.87"/><line x1="97.45" y1="341.27" x2="103.75" y2="341.27"/><line x1="97.45" y1="234.66" x2="103.75" y2="234.66"/><line x1="97.45" y1="128.06" x2="103.75" y2="128.06"/></g>
<text x="96.78" y="587.00" font-size="27.86">0</text>
<text x="233.24 246.35" y="587.00" font-size="27.86">20</text>
<text x="375.98 389.30" y="587.00" font-size="27.86">40</text>
<text x="518.82 532.24" y="587.00" font-size="27.86">60</text>
<text x="661.94 675.19" y="587.00" font-size="27.86">80</text>
<text x="77.63" y="564.30" font-size="27.86">0</text>
<text x="64.52 77.63" y="457.70" font-size="27.86">20</text>
<text x="64.32 77.63" y="351.10" font-size="27.86">40</text>
<text x="64.21 77.63" y="244.49" font-size="27.86">60</text>
<text x="64.38 77.63" y="137.89" font-size="27.86">80</text>
<text transform="translate(255.82,617.20) scale(0.9729,1)" font-size="28.8">Azimuthal</text>
<text transform="translate(383.33,617.20) scale(0.9596,1)" font-size="28.8">angle</text>
<text transform="translate(451.83,617.10) scale(0.9893,1)" font-size="27.6" font-style="italic">θ</text>
<text transform="translate(464.43,620.90) scale(1.0563,1)" font-size="18.3">sky</text>
<text transform="translate(502.86,617.20) scale(0.9584,1)" font-size="28.8">(degree)</text>
<text transform="translate(51.20,457.87) rotate(-90) scale(0.9520,1)" font-size="28.8">Angle</text>
<text transform="translate(51.20,382.75) rotate(-90) scale(0.9396,1)" font-size="28.8">difference</text>
<text transform="translate(51.20,263.43) rotate(-90) scale(0.9498,1)" font-size="28.8">(degree)</text>
<path d="M542.90,88.5 L725.75,88.5 Q733.15,88.5 733.15,95.90 L733.15,239.60 Q733.15,247.0 725.75,247.0 L542.90,247.0 Q535.5,247.0 535.5,239.60 L535.5,95.90 Q535.5,88.5 542.90,88.5 Z" fill="#ffffff" fill-opacity="0.8" stroke="#cccccc" stroke-opacity="0.8" stroke-width="1.44" stroke-linejoin="miter"/><line x1="544.8" y1="108.80" x2="601.9" y2="108.80" stroke="#1f77b4" stroke-width="2.7"/><text transform="translate(621.49,118.20) scale(1.1172,1)" font-size="27.9" font-style="italic">i</text><text transform="translate(638.18,119) scale(1.3373,0.8524)" font-size="27.9" style="stroke:none">=</text><text x="666.03 679.33 692.62 699.83" y="118.20" font-size="27.86">30.0</text><text transform="translate(712.51,116.34) scale(1.0135,1)" font-size="24.79">°</text><line x1="544.8" y1="146.47" x2="601.9" y2="146.47" stroke="#ff7f0e" stroke-width="2.7"/><text transform="translate(621.49,155.87) scale(1.1172,1)" font-size="27.9" font-style="italic">i</text><text transform="translate(638.18,157) scale(1.3373,0.8850)" font-size="27.9" style="stroke:none">=</text><text x="666.02 678.24 692.62 699.83" y="155.87" font-size="27.86">45.0</text><text transform="translate(712.51,154.01) scale(1.0135,1)" font-size="24.79">°</text><line x1="544.8" y1="184.14" x2="601.9" y2="184.14" stroke="#2ca02c" stroke-width="2.7"/><text transform="translate(621.49,193.54) scale(1.1172,1)" font-size="27.9" font-style="italic">i</text><text transform="translate(638.18,194) scale(1.3373,0.8187)" font-size="27.9" style="stroke:none">=</text><text x="665.96 679.33 692.62 699.83" y="193.54" font-size="27.86">60.0</text><text transform="translate(712.51,191.68) scale(1.0135,1)" font-size="24.79">°</text><line x1="544.8" y1="221.81" x2="601.9" y2="221.81" stroke="#d62728" stroke-width="2.7"/><text transform="translate(621.49,231.21) scale(1.1172,1)" font-size="27.9" font-style="italic">i</text><text transform="translate(638.18,232) scale(1.3373,0.8514)" font-size="27.9" style="stroke:none">=</text><text x="666.13 679.09 692.62 699.83" y="231.21" font-size="27.86">85.0</text><text transform="translate(712.51,229.35) scale(1.0135,1)" font-size="24.79">°</text>
</svg>
</body></html>
